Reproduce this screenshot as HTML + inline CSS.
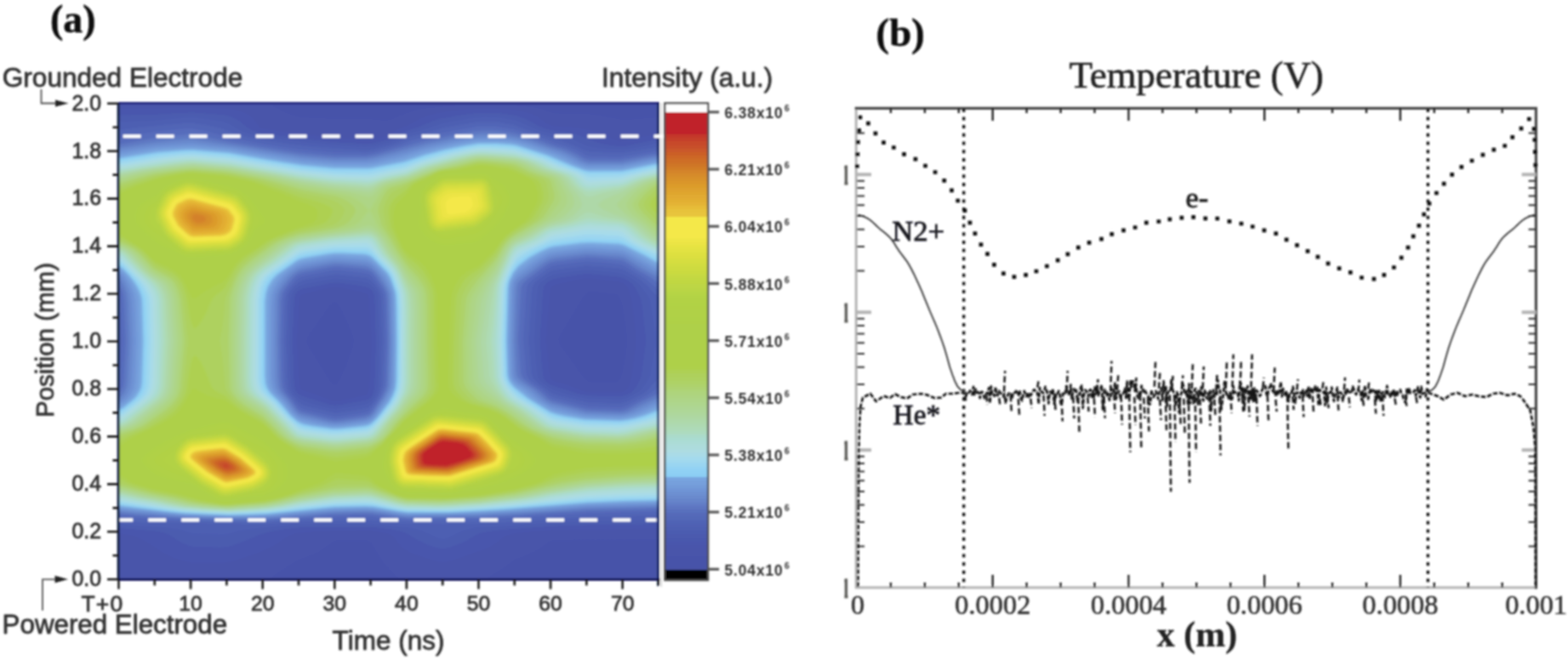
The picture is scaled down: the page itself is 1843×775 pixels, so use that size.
<!DOCTYPE html>
<html lang="en"><head><meta charset="utf-8"><title>Figure</title>
<style>
html,body{margin:0;padding:0;background:#fff;overflow:hidden}
svg{display:block}
.sans{font-family:"Liberation Sans",Arial,Helvetica,sans-serif}
.serif{font-family:"Liberation Serif","Times New Roman",Times,serif}
</style></head>
<body>
<svg width="1843" height="775" viewBox="0 0 1843 775">
<rect width="1843" height="775" fill="#fff"/>
<defs><filter id="soft" x="0" y="0" width="1843" height="775" filterUnits="userSpaceOnUse"><feGaussianBlur stdDeviation="0.9"/></filter></defs>
<g filter="url(#soft)">
<g id="panel-a">
<defs><clipPath id="hm"><rect x="139.0" y="121.0" width="636.0" height="560.6"/></clipPath><filter id="hb" x="-2%" y="-2%" width="104%" height="104%"><feGaussianBlur stdDeviation="1.3"/></filter></defs>
<g clip-path="url(#hm)"><g filter="url(#hb)">
<rect x="130.5" y="112.7" width="652.5" height="577.6" fill="#4753a9"/>
<path fill="#4854aa" d="M133 113l182.9 0 0.9 6 2.7 4 2.3 2 11.2 6.1 16 5.7 8 1 34 1.7 44 0.3 18 2 6-1.2 8-3.7 18-6.7 12-2.8 28-2.9 40-1.7 22 0.1 28 1.6 12 1.5 8 1.6 16 5.5 42 0.8 16 2.3 24 4.9 36-3.1 12-0.4 0 497.2 -124 0.1 -8 0.8 -4 1.9 -10 7.3 -6.9 4.1 -23.1 9.8 -16 11.4 -11.6 6.8 -4.4 3.5 -1.9 2.5 -1.3 6 -99.2 0 -0.4-4 -1.7-4 -11.5-12 -6-7.1 -4.9-6.9 -9.1-14.9 -2-2.4 -4-2.3 -10-0.5 -22 0.1 -6 1.6 -16 10.9 -10 4.9 -18 7.1 -20.9 13.5 -5.6 4 -4.1 4 -2 4 -0.4 4 -185 0 0-576zM689.8 345l-2.8 2.7 -4 6 -23.5 39.3 -2.6 6 0.3 4 2.3 4 12 16 12.6 18 2.9 3.5 4 3.3 4 1.5 4 0.3 22 0 4-0.6 2-1.4 2-3.1 2-5.7 4-20.9 1.9-14.9 -0.3-8 -3.6-26.4 -2-10.1 -2-6.5 -2-3.6 -2-1.8 -2-0.7 -26-2.7 -4 0.2 -2 0.7zM390.2 357l-3.2 3.4 -22.8 32.6 -2.4 4 -1.1 4 0.3 2.3 1.6 3.7 24.4 39.3 4 5 2 0.8 2-0.5 4-5.1 7.1-15.5 8-22 1.5-8 -1.2-6 -3-8 -10.4-22.8 -4-6.2 -2-1.8 -2-0.6 -2 0.7z"/>
<path fill="#4a57ad" d="M199 127l30-0.8 32 1.3 12 1.3 12 3 7.1 3.2 5 4 7.5 10 4.4 2.5 42 6.2 46 4.8 36 1.1 18-2.6 6.5-2 9.5-6.8 14-5.2 12-7 12-4.5 12-2.7 14-2.1 22-2.1 14-0.6 16 0 12 0.8 12 1.2 10 1.9 8 2.4 5.9 2.7 4.1 2.5 6.8 5.5 5.2 2.6 6 1.1 24 1.6 14 2.2 16 4.5 16.6 8 5.4 1.5 6-0.4 14-4 10-1.8 14-1.5 8-0.2 0 462.7 -131.2 1.7 -26.5 2 -18.3 2 -8 2 -4.4 2 -11.6 9.1 -8 4.1 -32 11.6 -14 4.1 -6 0.9 -6-0.6 -8-2.1 -24-8.2 -6-3.2 -4-3 -4-4.1 -6.3-8.6 -2.6-2 -5.1-2 -18-3.2 -8-0.3 -42 0.6 -24 1.1 -15.4 1.8 -6 2 -4 2 -10.6 7.3 -8 4.6 -16 7 -28 9.5 -8 1.7 -8 0.4 -32-0.1 -10-1.6 -12-3.8 -10-4.2 -6-3.5 -12-8.4 -12-6.9 -4.7-2 -7.2-2 -10.1-1.6 -12-0.6 0-499 48-0.1 18.9-0.7zM677.5 329l-26.2 6 -3 2 -1.4 2 -0.6 2 -3.3 36.5 -1.4 23.5 3.4 35.7 1.9 8.3 2.1 2.3 3.4 1.7 16.6 4.4 13.4 5.6 6.6 1.9 6 0.5 28 0.5 8-0.5 4-1.8 2.8-2.6 2.1-4 1.9-6 1.7-8 4.6-36 -0.3-8 -4.6-40 -1.3-6 -2.5-8 -2-4 -2.4-2.6 -4-2.3 -4-1.1 -34-3.7 -6 0.1 -8 1.3zM383.8 339l-26.8 6.2 -3.1 1.8 -1.4 2 -0.7 2 -1.1 10 -2.2 40 1.7 34 1.5 18 1.3 4 2 2 16 5 17.8 7 4.2 0.7 4 0 13.8-2.7 18.2-4.1 3-1.9 1.9-4 1.1-9.5 1.7-48.5 -2.3-50 -1.3-4 -2.1-2 -6-2 -28-5.4 -6 0.1 -6 1.1z"/>
<path fill="#4b5baf" d="M203 133l24-1.1 36.9 3.1 7.7 2 7.4 3.5 4 2.7 9.5 7.8 3.6 2 10.9 3.2 42 6 32 3.4 14 1.3 34 1.9 8-0.3 20-4.4 6-2.8 10-6.4 19.3-5.9 14.7-6.3 10-3.3 28-4.9 14-1.7 8-0.4 20 0.4 20 2.9 12 4.2 12.6 7.1 9.4 4.1 7.8 1.9 15.6 2 10 2 6.4 2 20.3 8 7.7 2 10.2 1.7 10 1 6-0.3 32-6.7 14-1.1 0 452.8 -88 1.3 -42 1.3 -56.6 4 -17.5 2 -11.5 2 -5.3 2 -11.1 6.7 -8 3.9 -12 4.3 -8 1.6 -8-1.1 -12-4.1 -10-4.9 -14.2-8.4 -5.6-2 -10.1-2 -24.1-3 -82 0.6 -20 2 -14.6 2.4 -8.7 2 -6.5 2 -20.2 8.6 -12 4.3 -6 1.5 -8 0.5 -28-0.4 -8-0.9 -10-4.3 -14.6-9.3 -4.9-2 -8.6-2 -35.9-3 -18-0.6 0-486.2 48-0.5 24-1.7zM683.4 323l-25.6 4 -8.7 2 -6.1 3.6 -3.4 4.4 -1.4 8 -3.3 54 2.1 28.9 1.8 15.1 1.8 4 1.7 2 4.7 3.3 33.5 10.7 12.5 2 36 0.8 4-0.7 4-1.4 4.8-2.7 2.5-2 4.3-6 3.9-8 1.2-4 5.4-40 -4.7-42 -1.7-8 -5.9-12 -3-4 -4.7-4 -6.1-3.4 -6-1.6 -18-2 -16-1.4 -8 0.2zM390.1 333l-35.1 7 -5.2 3 -2.7 4 -1.1 8 -1.7 44 1.7 50 0.6 6 1.3 4 3.1 4 3.1 2 31.6 10 7.3 1.2 6-0.3 32-5.8 2-0.9 2.7-2.2 1.5-2 1.5-4 1.4-10 1.4-48 -1.4-50 -0.7-6 -1.8-4 -2.6-2.9 -4-2.2 -8-1.6 -20-2.9 -6-0.6 -6 0.1z"/>
<path fill="#4e5fb2" d="M207 139l14-1.2 6 0 16 1.9 18 2.9 8 2.6 12.8 7.8 4.6 2 8.6 2.5 14 2.7 34 5 22 2.5 26 2.4 38 2.5 10-0.6 20-4.9 6-2.5 9.2-5.6 4.5-2 22.3-5.7 20-6.8 34-6.1 12-1.1 18 0.3 20 3.5 6 2.1 18 8.1 14 4.3 22.6 5.4 7.4 2.8 16 7.2 8 1.9 22 2 14 0.4 15.8-2.3 22.2-4.6 10-0.7 0 443.8 -94 2 -44 2.1 -58 4 -24 0.9 -14 2.8 -6 2.3 -14 6.9 -6 1.6 -6-1 -17.2-8.1 -8.8-2.7 -12-1.9 -42-4.2 -87.1 0.8 -59.9 6 -10 2 -11 3.3 -6 0.5 -34-1.4 -14.8-4.4 -15.2-2.1 -52-3.3 -14-0.3 0-473.7 50-2.2 25.6-2.4zM678.4 319l-21.4 3 -8 1.8 -6 3.1 -5.5 4.1 -2.5 2.6 -2.1 3.4 -1.3 8 -3.4 54 2.9 36 1.3 8 2.2 4 1.8 2 8.6 6.3 6 3 16 5.2 14 3.3 10 1.7 38 1.2 4-0.7 6-2.2 11-5.8 4.3-4 3-4 5.3-8 1.7-4 6.3-40 -5.5-42 -1.3-6 -3.2-6 -9-12 -7.4-6 -11.2-6.2 -8-1.9 -30-2.8 -8-0.1 -8 0.9zM386.5 329l-25.5 4.8 -8 2.3 -4 2.6 -2.5 2.3 -1.6 2 -1.9 4 -1.1 8 -1.4 46 1.4 46 1.3 10 3.1 6 2.7 3 4 3.2 8 3.5 16 4.5 12 2.7 6 0.5 28-3.9 8-1.8 4-2.3 2-1.8 4-6.3 2.5-9.3 0.7-8 1.3-46 -1.5-48 -0.6-6 -1.5-4 -2.9-4.6 -4-3.9 -4-2 -8-1.4 -24-2.7 -6-0.2 -6 0.7z"/>
<path fill="#5165b6" d="M565 142.9l18 0.1 20 3.4 18 6.6 40 12.8 16 6 12 5.4 4 1 38 1.4 42-6.7 8-0.5 0 179.9 -6-1.9 -4-3.1 -11.6-12.3 -7.1-6 -17.3-10.4 -6-2.4 -20-2.1 -20-1.4 -38 5 -6 2.6 -12 8.7 -4.4 4 -2.5 4 -1.2 8 -3.3 56 3.1 36 0.7 4 1.8 4 5.9 6 13.9 9.9 4 2.2 8 2.7 32 7.1 32 1.6 8-0.5 6-2.2 18.3-8.8 5.2-4 8.5-9.2 4-3.6 4-2.4 4-0.8 0 163.1 -90 2.2 -106 6.6 -44 0.5 -22 0.8 -48-0.9 -14-1 -24-2.6 -80 1.5 -48 3.6 -80-2 -42 0.3 -52-2.6 0-209.2 0.9-2.3 -0.9-2.5 0-245.6 10-0.4 22-2.7 54-5.2 10-0.2 16 2.7 18 3.9 16 6.3 10 2.8 32 5.9 30 4.3 16 1.7 34 2.8 32 1.6 8-0.9 20-5.1 9.6-3.4 12.4-6.2 24.1-5.8 15.9-4.7 32-5.8 10.5-1.5zM380.8 325l-21.8 4.1 -6 2 -4 2.7 -5.2 5.2 -3 4 -1.8 4 -0.9 8 -1.3 46 1.2 44 1.5 12 3.1 6 8.4 9.6 4 3 6 2.2 32 7.4 6-0.2 28-4.2 6-2.1 6-6.1 4.7-7.6 2.3-6 1.4-6 1.9-54 -1.5-46 -1.3-8 -3-6 -4.5-6.2 -4-3.9 -4-1.9 -34-3.9 -6 0.2 -10 1.7z"/>
<path fill="#576cbb" d="M561 148.8l22-0.1 22 3.5 28.3 8.8 15.8 6 19.9 6.4 8 3.2 12 6.2 4 1.1 36 0.8 40-6.4 12-0.8 0 164.3 -4-0.5 -4-1.5 -15.4-12.8 -22.6-13.8 -6-2.5 -15.1-1.7 -24.9-1.7 -34 4.2 -6 1.3 -6 3.3 -16.9 12.9 -4.4 4 -2.3 4 -1.1 8 -3.3 54 3 36 0.5 4 1.3 4 1.2 2 4 4 12 8.6 10 8.4 4 2 40 9.9 38 1.6 6-1.8 25.4-12.7 14.6-10.3 6-1.1 0 147.5 -90 2.3 -112 7.2 -18 0.5 -42-0.4 -38 1.2 -18-1.1 -26-3.5 -6-0.3 -36 0.9 -44 2.5 -44 3.2 -120-2.8 -56-3.2 0-150 4-0.6 2-1.1 2-2.5 0.8-2.4 1.2-10.5 2.3-39.5 -2.3-40.9 -1.2-11.1 -0.8-2.9 -2-3.1 -2-1.3 -4-0.8 0-177.4 10-0.6 20-4.3 20-3.3 36-4 8-0.3 18 3.5 30 7.8 12 2.5 24 4.5 42 6.3 42 3.7 38 0.7 8-1 22-5.8 8-2.5 14-5.3 38-9.4 38.8-7zM385.1 319l-26.1 4.9 -6 1.8 -4 2.6 -4 4.2 -6 7.2 -3.2 5.3 -1.5 8 -1.2 48 1 44 1.2 10 2.4 6 11.3 14.5 4 4 4 1.9 36 8.7 6-0.3 30-4.5 4-1.6 2-1.6 8-10.8 4.5-8.3 3.3-10 2.1-52 -1.5-46 -0.7-8 -2.3-6 -7.4-11.3 -4-4.8 -4-2.8 -6-1.4 -28-2.9 -6-0.1 -6 0.9z"/>
<path fill="#5f79c3" d="M555 154.8l10-1.1 16 0.1 18 2 8 1.4 22 6.4 20 7.4 16 4.8 10 4.2 12 6.6 6 1.6 36 0.4 36-6.3 16-1.1 0 152.7 -4-0.4 -4-1.6 -10.2-6.9 -13.9-8 -12.3-8 -3.6-1.9 -4-1.3 -30.7-2.8 -9.3-0.3 -34.9 4.3 -7.1 1.7 -6 3.6 -21.9 16.7 -4.1 3.9 -1.4 2.1 -1.2 4 -0.4 4 -3 56 2.6 36 0.5 4 1.4 4 1.4 2 4.5 4 14.3 10 11 10 4.3 2.3 40 10.2 8 0.7 32 1.1 4-0.7 4.4-1.6 13.6-7.3 22-10.5 4-1.3 4-0.4 0 136.4 -90 2.3 -44 2.7 -38 3.1 -44 2.4 -86 1.1 -14-1.2 -28-4 -8-0.3 -36 0.9 -68 5.4 -20 1.1 -40-0.4 -54-1.6 -24-1.2 -46-3.7 -10-0.2 0-138.8 4-0.3 4-1.8 3.7-4.4 2.3-5.7 0.9-8.3 1.9-44 -1.9-44 -0.9-10 -2-6.3 -4-7.1 -2-1.9 -2-1.1 -4-0.6 0-159.7 12-0.8 40-7.3 40-4.5 6 0.6 30.8 6.7 47.2 8 44 6.7 42 3.8 38-0.1 10-1.6 58-15.9 28-6 26.7-4.9zM382.8 315l-25.8 4.9 -6 2.1 -4 2.8 -4 4.3 -7.8 9.9 -3.3 6 -1.4 8 -1.1 48 0.9 44 1.3 10 2.6 6 8.1 10 6.7 9.4 2.8 2.6 3.2 1.6 33.1 8.4 4.9 0.7 6-0.3 30-4.3 4-1.3 2-1.3 4-4.9 9.4-14.6 3.8-8 1.8-6 0.7-8 1.2-44 -1.4-48 -1-8 -2.6-6 -9.3-14 -4.6-5.2 -4-2.4 -6-1.3 -30-2.8 -6 0.2 -8 1.5z"/>
<path fill="#6888cc" d="M557 158.8l8-0.7 18 0.1 18 1.7 10 2 14 3.9 20.3 7.2 15.7 4.8 10 4.2 14 7.4 4 1.4 4 0.6 38 0 32-6 10-1.3 8-0.2 0 143 -6-0.7 -4-1.6 -16-8.7 -18-11.2 -4-1.9 -6-1.4 -38-2.5 -36 4.4 -8 2.2 -6.1 3.5 -25.9 19.4 -2.8 2.6 -2.3 4 -0.9 6 -2.1 60 1.8 36 0.6 4 1.7 3.6 4.7 4.4 14.9 10 13.6 12 6.8 3.6 40 9.8 40 1.7 6-0.9 6.1-2.2 17.9-9 12-5.2 4-1.1 6-0.5 0 128.3 -90 2.4 -82 6 -46 2.7 -84 1.1 -14-1.4 -28-4.2 -8-0.3 -36 0.9 -66 5.7 -24 1.4 -38 0 -50-1.7 -50-3.7 -24-2.3 -10-0.3 0-131.1 6-0.7 4-2 4.3-5 3.7-8 1.1-8 1.9-46 -1.8-46 -1.4-10 -3.8-10 -4-7.2 -4-3.3 -6-1 0-149.3 12-0.7 38-6.1 36-3.5 8-0.2 56 8 72 11.6 40 3.4 38-0.2 10-1.5 64-16.6 32-6.3 18.9-3.1zM384.5 311l-27.5 5.2 -4 1.1 -4 1.9 -5.1 3.8 -3.8 4 -7.8 10 -3.6 6 -1.3 4 -0.8 6 -0.8 44 0.6 46 1 10 1.2 4 2 4 8.5 10 7.9 11.2 4 3.7 4 1.9 29.1 7.2 8.9 1.4 8-0.5 28-4 6-2.2 4-4 12.2-18.7 3.9-8 1.7-6 1.6-52 -1.1-48 -0.9-8 -3.4-8.3 -6-9.7 -6.4-8 -5.6-4.6 -6-1.9 -28-2.5 -8-0.2 -8 1.1z"/>
<path fill="#6e92d4" d="M553 162.8l12-1.3 16-0.1 18 1.4 10 1.6 14 3.8 34 11.3 8.6 3.5 17.4 8.6 8 2.4 40-0.1 36-6.7 14-1 0 135.6 -6-0.6 -6-2.1 -31.4-18.1 -4.6-2 -6-1.4 -38-2.2 -36 4.3 -8 2 -10 5.6 -24 17.7 -4 4 -2 3.6 -1.3 8.4 -1.7 60 1.4 36 0.4 4 1.3 4 3.9 4.4 14.5 9.6 14 12 6.1 4 5.4 2.6 28 7 12 2.3 40 1.5 6-0.7 8.9-2.7 27.1-12.3 4-1 6-0.5 0 122.3 -90 2.5 -84 6.3 -50 2.9 -78 1 -10-1 -32-4.9 -8-0.3 -36 0.9 -76 6.8 -24 0.8 -30 0.1 -46-1.7 -20-1.4 -56-5.4 -10-0.3 0-125.4 6-0.6 2.6-0.8 3.4-2 5.5-6 4.2-8 1.5-8 1.9-48 -1.7-46 -1.5-10 -4.9-12 -5-8.3 -4.6-3.7 -3.4-1 -4-0.3 0-142.2 12-0.7 40-6.1 42-2.7 48 5.2 82 13.1 38 3.3 38-0.2 10-1.3 34-8.2 32-8.7 26-5.1 18.7-3.1zM389.5 307l-32.5 5.8 -8 3 -6 4 -5.8 5.2 -6.6 8 -5 8 -2.1 6 -0.8 8 -0.6 46 0.7 46 1.4 8 2.9 6 9.9 11.4 8 11.1 6 5.4 6 2.4 28 6.3 8 1 10-0.7 26-3.5 4-1.1 4-2.3 3.6-4 10.9-16 6.2-12 1.2-4 0.7-6 1-42 -1.1-56 -0.6-6 -1.2-4 -5.8-12 -7.7-10 -5.2-5.2 -4-3 -4-1.5 -4-0.5 -28-2.1 -8 0.1z"/>
<path fill="#749dda" d="M557 164.9l8-0.7 18 0 18 1.4 8 1.4 12 3.3 32 10.7 8 3.2 18.7 8.8 5.3 2 6 1.4 40-0.1 36-6.8 14-1.2 0 129.3 -6-0.6 -4-1.2 -32-17.9 -6-2.7 -6-1.3 -30-1.8 -10 0 -34 4.1 -6 1.2 -4 1.6 -14.1 8 -17.9 13.3 -4 3.8 -4 6.4 -1.3 4.5 -0.6 6 -1.6 60 1.3 38 0.6 4 1.7 4 3.9 4.3 12 8.2 13.9 11.5 14.1 8.5 6 2.1 14.2 3.4 19.8 3.9 10 0.8 32 0.9 6-0.6 10-2.6 8-2.9 18-8.1 4-1 6-0.5 0 116.8 -48 1 -42 1.5 -94 7.3 -50 2.6 -28 0.7 -40 0 -10-1 -30-4.9 -10-0.5 -38 1.1 -80 7.3 -40 0.8 -56-2.1 -74-7.2 -10-0.4 0-120.3 8-1 6.2-3.6 4.4-4 3.2-4 4.2-8 1.5-8 1.7-48 -1.6-46 -1.7-10 -5.2-12 -6.7-10.2 -6-4.9 -4-1.2 -4-0.3 0-135.8 12-0.7 40-6.1 42-2.6 44 3.9 86 14 38 3.2 38 0 8-0.8 34-7.6 24-7.1 16-3.9 24-4.8 19.6-3.1zM382.7 305l-25.7 4.6 -8 2.9 -9.6 6.5 -6.9 6 -6.5 8 -4.5 8 -2.2 8 -0.5 10 -0.4 42 0.3 40 0.3 6 1 6 1.3 4 2.2 4 10.9 12 8.6 11.5 4.5 4.5 5.5 3.6 17.2 4.4 20.8 3.5 10-0.3 28-3.5 6-1.9 4-3.1 2.4-2.7 13.6-19.3 4.3-8.7 1.9-6 0.7-8 0.8-48 -0.8-44 -1.2-12 -3.7-10 -4.2-8 -3.2-4 -8.6-8.7 -6-4.9 -6-1.8 -28-1.9 -8-0.1 -10 1.4z"/>
<path fill="#7aa8e0" d="M561 166.9l24-0.2 16 1.3 8 1.4 40 12.9 29.2 12.7 6.8 2.4 6 1.4 40-0.1 38-7.3 12-1 0 123.2 -6-0.6 -4-1.3 -30.4-16.7 -7.6-3.4 -6-1.4 -30-1.5 -10 0 -36 4.3 -6 1.6 -5.6 2.4 -14 8 -14.4 10.6 -6 6.4 -4 7.4 -1.2 3.6 -0.9 6 -1.7 62 1.3 38 0.5 4.1 2 5 4.1 4.9 10.9 8 9.6 8 15.4 10 6 3.3 6 2 10 2.4 24 4.5 42 1.6 8-1 10-2.4 10-3.3 14-6 4-1.1 6-0.5 0 111.4 -46 1 -44 1.6 -94 7.5 -34 2.2 -30 1.1 -54 0.2 -12-1.4 -28-4.7 -10-0.6 -38 1.1 -80 7.6 -40 1.1 -54-2.1 -74-7.9 -12-0.5 0-115.4 8-1 4-1.9 4-2.8 8.6-8 4.9-8 1.4-4 0.8-6 1.7-48 -1.7-48 -0.6-4 -1.8-6 -6.2-12 -4.2-6 -4.9-5.6 -6-4.6 -4-1.2 -4-0.2 0-129.7 12-0.7 40-6.4 42-2.7 44 3.6 86 14.3 38 3.2 40 0.2 8-1.1 34-7.2 24-7.5 18-4.6 24-4.8 18.7-3zM389.1 301l-32.1 5.4 -8 2.9 -11.4 7.7 -7.7 6 -5.6 6 -5.2 8 -2.9 8 -1.2 10 -0.3 50 0.7 44 1.5 6 3.1 6 11.3 12 11.1 14 4.6 4.3 4 2.9 4 1.8 8 2 26 4.3 8 0.2 18-1.8 16-2.2 4-1.5 4-2.9 4.6-5.1 11.9-16 3.5-6.3 3.3-7.7 1-4 0.7-6 0.7-44 -0.5-42 -0.7-16 -2.6-10 -3.9-9.7 -2-3.6 -3.9-4.7 -10.1-10 -6-5 -4-1.5 -4-0.5 -28-1.4 -8 0.2z"/>
<path fill="#90d1f4" d="M563 169l22 0.1 16 1.2 6 1 36 11.5 28.7 12.2 15.3 5.4 6 1.1 38-0.3 38-7.6 12-1 0 116.9 -6-0.6 -4-1.3 -15.3-8.6 -20.7-10.2 -4-1.6 -4-0.8 -32-1.3 -12 0.5 -32 3.9 -6 1.6 -10 4.4 -13.3 7.5 -12.7 9.7 -6 7.8 -4.1 8.5 -1.2 4 -0.9 6 -1.8 62 1.2 38 1 6 1.8 4.1 2.8 3.9 3.2 3.2 16 12.8 26 16.1 6 2 10 2.3 24 4.2 42 1.4 8-0.9 10-2.2 10.3-2.9 15.7-6 8-0.9 0 105.9 -50 1.1 -40 1.6 -100.1 8.3 -63.9 3.4 -48-0.2 -10.1-1.2 -29.9-5.2 -10-0.6 -36 0.9 -80 8.1 -44 1.5 -52-2.3 -22-2.2 -52-6.4 -12-0.6 0-110.5 8-0.9 4-1.9 4-2.7 11-9.2 3.4-4 3.4-6 1.4-4 0.8-6 1.5-48 -1.4-46 -0.8-6 -2-6 -2.8-6 -3.8-6 -6.3-8 -6.4-6.8 -6-4.5 -4-1.2 -4-0.2 0-123.5 12-0.7 42-6.8 32-2.6 10-0.2 42 3.5 42 7.5 44 7.1 38 3.3 40 0.3 6-0.7 36-7.1 26-8.5 22-5.7 24-4.8 15.5-2.4zM381.8 299l-24.8 4.2 -4 1 -4 1.9 -23.8 16.9 -5.6 6 -4.9 8 -2.4 8 -1.1 10 0 86 0.8 10 2 6 4.1 6 10.1 10 13.4 16 7.4 6.5 4 2.3 4 1.4 10 2 24 3.3 10-0.3 28-3 4-1 4-2.1 7.2-7.1 13.7-18 4.2-8 2.9-8 1.1-10 0.6-46 -0.6-42 -0.4-10 -0.9-6 -5.5-16 -3.4-6 -16.9-17.3 -4-3.2 -6-1.8 -26-1.1 -10 0 -10 1.2z"/>
<path fill="#9dd7f0" d="M553 172.7l10-1.5 14 0 22 1.3 8 1.3 34 10.7 24.3 10.5 23.7 8.5 4 0.8 38-0.3 38-8 12-1.1 0 110.5 -6-0.6 -4-1.5 -38-19.3 -4-1.3 -4-0.6 -36-1 -34 4 -6 1.1 -4 1.3 -16.5 7.5 -13.5 8 -8 7 -6 9.5 -4.8 11.5 -1 4 -0.6 6 -1.8 60 1.3 40 1.4 6 2.1 4 5.4 6.8 10.6 9.2 33.4 20.9 6 2.2 8 1.7 26 4.3 40 1.4 8-0.7 12-2.3 12-3.1 14-4.7 8-1 0 100.1 -46 1 -44 1.8 -93.3 8.4 -36.7 2.5 -36 1.8 -46-0.4 -13.7-1.9 -26.3-4.9 -10-0.7 -36 1 -80 8.6 -44 1.7 -30-1.1 -22-1.4 -22-2.4 -54-7.2 -10-0.4 0-105.3 8-1 6-3.2 15.1-11.7 5.7-6 2.4-4 2.3-6 0.7-6 1.5-48 -1.4-46 -0.8-6 -2.2-6 -3-6 -4.1-6 -16.2-17.9 -6-4.5 -4-1.2 -4-0.3 0-117.2 12-0.7 42-7 32-2.9 10-0.3 40 3.2 88 15.2 38 3.5 40 0.6 42-7.7 18-6.4 21.5-6.4 14.5-3.6 22.1-4.4zM387.4 295l-28.4 4.4 -8 2.3 -6 3.7 -22 15.6 -6.5 6 -4.2 6 -2.9 8 -1.7 12 -0.1 88 0.7 10 2.1 6 4.2 6 10.5 10 10 12 5.8 6 8.1 7.2 4 2.4 4 1.3 8 1.5 26 3.3 10-0.3 26-2.5 4-0.7 4-1.5 4-2.8 5.6-5.9 15.6-20 4.1-8 2.8-8 1-10 0.5-46 -0.4-40 -1-16 -4.3-14 -4.5-10 -3.4-4.3 -16-16.4 -4-3.4 -4-1.6 -4-0.4 -28-0.7 -10 0.6z"/>
<path fill="#a8dbe9" d="M553 175l10-1.5 10 0 24 1.3 10 1.5 30 9.1 21.8 9.6 20.2 7.1 12 5.7 4 0.7 34-1 40-9.1 12-1.1 0 103.8 -8-1.2 -20-8.7 -8.5-4.2 -11.5-7.5 -4-1.8 -6-0.8 -26-1.2 -10 0.3 -36 5.4 -4 1.4 -26.1 12.2 -7.9 4.7 -6 5.4 -6 9.7 -6.9 16.2 -1.6 10 -1.9 60 1.3 40 1.3 6 3 6 4.8 6.3 8 7.7 38 24.1 4 1.6 6 1.4 30 4.9 8 0.6 32 0.7 10-1.1 20-4.3 16-4.5 8-0.9 0 93.6 -48 1 -42 1.9 -88.8 9 -39.2 3 -38 2.1 -48-0.7 -12-1.9 -26-5.3 -10-0.8 -36 1.1 -38 4 -20 3 -22 2.4 -44 1.9 -30-1.2 -22.9-1.6 -19.1-2.2 -56-8.5 -10-0.5 0-99.6 8-1.1 6-3.2 19.3-14.9 5.8-6 2.5-4 1.6-4 1.1-6 1.5-50 -1.3-46 -0.9-6 -2.3-6 -3.1-6 -4.4-6 -19.8-21 -6-4.6 -4-1.2 -4-0.3 0-110.8 10-0.5 46-7.6 30-3 10-0.3 40 3.2 88 15.3 40 4 38 0.9 6-1 18-4.2 18-3 18-6.8 28-8.2 14-3.4 18-3.5zM393.8 291l-34.8 5 -8 2.3 -32.7 22.7 -4.6 4 -4.4 6 -3.1 8 -2 14 -0.1 90 0.3 6 0.9 4 1.5 4 2.4 4 13.8 13.1 15.1 16.9 8.9 8.3 4 3.1 6 2.4 10 1.6 22 2.6 10 0.1 28-2.6 4-0.6 4-1.6 4-2.9 7.8-8.4 13-16 4.8-8 4.1-10 1.4-10 0.5-46 -0.3-40 -0.6-14 -0.9-6 -2.4-8 -4.6-12 -4.8-7 -10.9-11 -9.1-10.6 -4-2.8 -4-0.9 -34 0.2z"/>
<path fill="#aedcdf" d="M555 176.8l10-1.1 18 0.6 18 1.4 10 2.1 24 7.1 17.5 8.1 23.2 8 7.2 4 6.1 5 4 1.4 36-2.2 14-4.6 10-2.5 18-3.6 10-0.7 0 97.4 -6-0.5 -4-1 -18-7.4 -9.1-5.3 -10.9-9 -4-1.9 -6-0.8 -30-1.5 -6 0.5 -36.7 6.7 -3.3 1.3 -12 7.1 -21.6 9.6 -3.1 2 -3.3 3 -4 6.2 -7.1 14.8 -4.4 12 -1.1 8 -2.2 60 1.6 42 1.7 6 3.2 6 6.3 8.3 6 5.5 17.1 10.2 22.9 15.4 8 2.5 34 5.4 38 1.1 8-0.9 38-8.5 8-0.6 0 86 -48 1.3 -40 2.1 -42 4.5 -22 3.1 -26 2.8 -38 3.2 -40 2.4 -48-0.8 -12-2 -28-6.2 -8-0.6 -34 1.1 -40 4.6 -20 3.3 -20 2.3 -46 2.4 -32-1.4 -24-2 -18-2.4 -54-9.2 -10-0.6 0-93.9 8-1 6-3.3 23.4-18.1 6-6 2.5-4 1.5-4 1.1-6 1.4-50 -1.3-46 -0.9-6 -2.4-6 -3.2-6 -3-4 -27.1-28.1 -2.5-1.9 -3.5-1.6 -6-0.6 0-104.9 12-0.7 48-7.9 26-2.7 10-0.3 40 3.3 88 15.2 40 4.5 38 1.2 6-1.1 16-4.1 20-3.6 16-6.5 10-3.3 30-8.3 23-4.6zM403.9 287l-12.9 0.8 -32 4.7 -6 1.4 -4 1.9 -17.8 13.2 -17.4 12 -4.3 4 -3.9 6 -2.3 6 -1.7 8 -0.9 8 0 92 1.1 8 2.4 6 3.2 4 13.4 12 14.6 16 11.6 11.3 4 3.2 4 1.8 4 0.8 30 3.8 6 0.2 34-3 4-1 4-2.3 10-10.5 16.4-20.3 3.4-6 3.4-8 1.5-6 0.5-6 0.4-50 -0.6-46 -1.6-12 -5.7-16 -1.9-4 -3.8-5.6 -11.8-12.4 -10.2-13.2 -2-1.9 -2-1.1 -4-0.7 -24 0.9z"/>
<path fill="#abdcd5" d="M555 178.8l12-1.1 30 1.8 8 1 16 3.9 13.8 4.6 16.2 7.7 16 5.1 7.8 3.2 5.6 4 6.6 6.6 2 1 4 0.8 36-3.1 4.9-1.3 11.1-4.5 8-2.2 18-3.6 10-0.7 0 92.2 -6-0.4 -4-0.9 -14.5-5.9 -9.5-5.9 -11.2-10.1 -4.8-2.7 -6-1.1 -32-1.6 -6 0.5 -38 7.3 -4 1.8 -8.3 5.8 -5.7 3.2 -20.7 8.8 -3.3 2.4 -4 5.7 -9.2 19.9 -4.9 14 -0.8 8 -2.4 58 1.7 42 1.6 6 4 8 6 8 4.2 4 19.8 12 20 14.4 4 2.3 6 1.8 36 5.8 38 1.1 6-0.6 16-3.8 22-4.5 10-0.7 0 79 -46 1.3 -42 2.5 -43.9 5.4 -18.1 3.2 -16 2.1 -46 4.4 -42 2.8 -14 0.2 -36-1 -12-2.2 -28-6.8 -8-0.7 -34 1.2 -42 5.3 -18 3.4 -18 2.3 -14 1.2 -34 1.6 -32-1.5 -24-2.2 -56-9.4 -18-3.7 -8-0.4 0-88.6 8-0.8 6-2.9 27.6-21.5 4.3-4 3.1-4 2.5-6 0.9-6 1.5-50 -1.5-48 -1.4-6 -2.7-6 -5.5-8 -30.8-31.3 -4.5-2.7 -7.5-0.9 0-99.7 10-0.5 24-4.1 36-5.2 18-1.9 8-0.2 42 3.7 82 14.3 40 5 42 1.9 4-0.6 18-4.9 20-3.7 4-1.2 13-6 9-3 34-9.3 18.7-3.7zM415.8 283l-26.5 2 -32.3 4.7 -4 0.9 -4 1.7 -22 16.6 -15 10.1 -5 4.4 -3.8 5.6 -2.6 6 -2 8 -1.1 8 -0.5 48 0.3 46 0.9 8 2.3 6 3.1 4 14.2 12 14.8 16 14.4 14.4 4 3.1 4 1.6 4 0.7 30 3.8 8 0.2 32-3.1 4-0.8 4-2.1 8-8.5 16.3-19.3 4.4-6 4.2-8 2.5-6 1.9-10 0.3-88 -1-16 -1.8-8 -5.1-14 -3.7-7.2 -4-5.3 -10.7-11.5 -11.3-16.1 -2.8-1.9 -3.2-0.8 -14 0.7z"/>
<path fill="#acdbc6" d="M553 180.8l12-1.3 22 1.1 18 1.7 16 3.9 10 3.4 15 7.4 23.7 8 6.2 4 5.1 6 4 3.5 6 2.3 6-0.1 32-3.6 6-1.7 10.1-4.4 9.9-3.2 16-3.2 10-0.6 0 87.7 -6-0.4 -4-0.9 -12.4-5.4 -8.7-6 -11-10 -3.9-2.6 -3.4-1.4 -6.6-1.1 -32-2.2 -6 0.7 -14 3.5 -26 5 -4.1 2.1 -13.9 9.1 -20 8.5 -4 3 -4 6.5 -9.3 20.9 -5 14 -1 8 -3.2 58 2.1 42 1.6 6 5 10 4.4 6 5.4 5.2 17.8 10.8 21.9 16 4.3 2.6 6 2 38 6.2 38 1.1 8-0.9 16-4 18-3.6 12-0.9 0 73.3 -48 1.6 -40.3 2.6 -44.9 6 -16.8 3.3 -16 2.3 -50 5.2 -38 2.5 -14 0.2 -36-1.1 -10-1.8 -30-7.9 -8-0.6 -36 1.4 -40 5.5 -20 3.9 -16 2.3 -16 1.3 -32 1.6 -30-1.5 -26-2.5 -14-2.2 -18-4 -22-3.4 -18-4.2 -10-0.7 0-84 8-0.7 6.9-2.9 30.9-24 4.3-4 2.9-4 2.3-6 0.9-6 1.7-50 -1.8-48 -1.3-6 -3.8-8 -4.5-6 -15-14 -17.5-18.6 -6-3.7 -8-0.9 0-95.3 10-0.5 24-4.1 40-5.6 14-1.5 8-0.3 44 4.1 80 13.9 40 5.3 42 2.2 4-0.7 18-5.3 22-4.3 16-7 8-2.8 36-9.8 15-3.1zM405.3 281l-14.3 1.3 -34 4.9 -6 1.3 -5 2.5 -20.8 16 -16.2 11.1 -5.3 4.9 -3.9 6 -3.1 8 -2.1 10 -0.7 8 -0.1 90 1.4 10 2.9 6 3.8 4 13.1 10.2 30.5 31.8 5.1 4 7.6 2 30.8 4 8 0.2 34-3.5 4-1.1 4-2.6 24.6-29 4.3-6 6.9-14 1.4-6 0.6-6 0.2-78 -0.5-16 -0.7-8 -1.2-6 -6-16 -2.8-6 -2.8-4.4 -13.5-15.6 -8.8-14 -3.7-4 -2-1.1 -4-0.7 -24 1.7z"/>
<path fill="#aedab5" d="M551 182.7l12-1.6 20 0.8 22 2.1 14 3.3 10.1 3.7 13.9 6.8 16.3 5.2 7.7 3.1 4.3 2.9 6.8 8 2.9 2.7 6 3.9 4 1.1 4 0 34-5 6-1.7 14-6.1 9.1-2.9 12.9-2.7 10-0.6 0 83.5 -8-0.8 -8.6-3.4 -9-6 -13.8-12 -8.6-4.7 -6-1.3 -36-3.9 -4 0.8 -14.7 5.1 -21.3 4.3 -5.7 1.7 -4.3 2.1 -15.5 9.9 -16.5 7 -4.6 3 -3.2 4 -2.2 4.5 -8.6 19.5 -6.2 16 -1 6 -5.4 60 3.2 42 2.7 8 5.4 10 4.8 6 4.3 4 16.4 10 21.8 16 6.2 4 8.4 2.7 36 5.9 38 1.3 10-0.7 20-4.9 14-2.8 12-0.9 0 68.9 -48 1.6 -42 2.9 -42.6 6 -21.4 4.3 -16 2.3 -46 4.9 -38 2.6 -14 0.2 -36-1.1 -10-2 -30-8.2 -8-0.6 -36 1.4 -42 6.1 -18 3.8 -16 2.4 -14 1.3 -34 1.8 -30-1.6 -24-2.3 -14-2.4 -20-4.5 -20-3.3 -20-4.7 -10-0.6 0-80.3 10-0.9 8-3.7 29.5-22.9 4.7-4 3.5-4 2.8-6 1.2-6 2.2-52 -2.2-48 -1.2-6 -3.6-8 -4.6-6 -15.8-14 -18.7-20 -2.6-2 -4-2 -3.2-0.8 -6-0.3 0-91.5 10-0.5 26-4.5 38-5.2 14-1.6 8-0.3 44 4 58 9.9 22 4.2 40 5.6 40 2.8 6-1 16-5.4 25.7-5.4 16.3-7.2 8-2.8 36-9.6 10.7-2.4zM426.5 277l-37.5 3.4 -34 5 -6 1.5 -4 1.9 -24.1 18.2 -13.9 9.6 -5.1 4.4 -4.3 6 -2.8 6 -1.9 6 -2 10 -0.8 50 0.3 46 1.3 10 2.7 6 4.6 4.8 14.8 11.2 30.6 32 4.6 3.4 4 1.6 5.4 1 30.6 4 10 0 34-3.7 4-1.5 3.9-2.8 14.1-17.5 9.4-10.5 4.4-6 8.5-16 2.1-10 0.2-88 -1-14 -1-6 -7-18 -3.9-8 -4.1-6 -10.4-12 -9.7-16 -3.5-3.7 -4-2.1 -4-0.5 -4 0.3z"/>
<path fill="#aed8a8" d="M559 182.8l10-0.3 32 2.4 10 1.9 10 3 19.8 9.2 16.2 5.1 6.9 2.9 4.9 4 4.4 6 3.8 3.8 10 8.4 4 2 4-0.3 12.9-3.9 23.1-4.8 21.2-9.2 8.8-2.9 10-2.2 10-0.7 0 79.6 -8-1 -6.3-2.8 -7.7-5.5 -12.2-10.5 -5.8-3.9 -6-3.1 -6-1.9 -18.5-3.1 -15.5-4.7 -4-0.6 -4 1.2 -9.1 6.1 -4.1 2 -8.8 2.9 -16 3.6 -6 2.1 -6.5 3.4 -12.8 8 -16.7 7.5 -4 2.9 -2.9 3.6 -2.1 4 -16.1 36 -1.3 4 -3 16 -5.5 42 -0.6 8 3.8 40 2.4 6 7.8 12 6.8 8 4.7 3.9 13.4 8.1 24.6 18 7.2 4 8.8 2.6 36 5.9 40 1.2 10-1 32-7.2 12-0.9 0 64.9 -48 1.6 -42 3 -44 6.4 -22 4.5 -14 2.2 -46 5.2 -36 2.4 -14 0.5 -38-1.2 -8-1.6 -30-8.6 -4-0.8 -6-0.3 -36 1.5 -40 5.9 -22 4.7 -14 2.2 -14 1.4 -34 1.9 -26-1.4 -26-2.6 -13.5-2.4 -18.5-4.3 -21.3-3.7 -20.7-4.9 -12-1 0-76.8 10-0.8 6-2.1 4.8-2.4 5.7-4 25.5-20.2 4.3-3.8 3.2-4 2.6-6 1.2-6 2.6-52 -2.6-48 -1.9-8 -3.9-8 -3.2-4 -16.9-14 -16.5-18 -4.3-4 -3.1-2 -4.9-2 -8.6-0.8 0-87.8 10-0.5 30-5.4 32-4.3 16-1.9 8-0.3 46 4.2 54 9.3 24 4.8 40 6 42 3.3 4-1 8-3.8 8-2.7 26-5.6 20-8.4 8-2.7 36-9.4 15-3zM424.7 275l-35.7 3.5 -34 5 -6.4 1.5 -4.9 2 -6.6 4 -15.2 12 -16.9 12.1 -6.6 5.9 -3.4 4.7 -3.5 7.3 -2.4 8 -1.8 10 -0.7 48 0.4 44 1.1 12 1.4 4 2.6 4 4.9 4.5 12 8.2 3.8 3.3 28.7 30 3.5 3 4 2.4 8 2.2 36 4.5 36-3.4 6-1.2 3.5-1.5 2.9-2 3.6-3.6 11-14.4 13-14.9 9.3-15.1 2.9-6 1.4-6 0.5-8 -0.2-80 -0.7-12 -1.7-10 -9.6-22 -3.9-7.1 -12-14.9 -9.6-16 -3.2-4 -3.2-2.6 -4-1.7 -4-0.3 -6 0.6z"/>
<path fill="#aed79c" d="M555 184.9l6-0.9 8-0.1 26 1.9 12 1.5 12.2 3.7 17.8 8.5 18 5.7 4.1 1.8 5.2 4 5.6 8 9.2 10 2.4 4 2.3 6 0.1 2 -1.8 4 -5.8 6 -4.9 4 -7.9 4 -16.5 4.8 -11.6 5.2 -14.4 8.6 -16 7.8 -4.2 3.6 -3.8 5.6 -12 26.3 -7.7 14.1 -3.9 12 -1.9 8 -5.8 40 -0.6 8 3.1 38 0.7 4 1.6 4 2.9 4 7.3 8 12.5 12 15.9 10 24.9 18 7 3.5 6 2 42 6.9 38 1 12-1.2 30-6.9 12-0.9 0 61.2 -48 1.6 -42 3.1 -44 6.6 -24.9 5.1 -15.1 2.4 -42 4.9 -34 2.3 -16 0.6 -38-1.2 -10-2.3 -28-8.3 -4-0.8 -6-0.3 -38 1.7 -40 6.3 -21.5 4.7 -14.5 2.4 -12 1.2 -34 1.9 -24-1.3 -26-2.6 -32-6.9 -20-3.6 -24-5.6 -12-0.9 0-73.7 6-0.2 6-1 6-2 7.3-3.7 30.7-23.9 6-6.1 3.2-6 1.8-8 2.9-52 -3-48 -1.8-8 -3.7-8 -3.1-4 -2.2-2 -10.1-7.1 -5.6-4.9 -16.4-18 -4.3-4 -5.7-3.7 -4-1.6 -4-0.8 -6-0.3 0-84.1 10-0.6 24-4.8 18-2.8 36-4.4 10-0.2 42 3.7 54 9.4 26 5.5 34 5.4 48 5.1 4-1 8.1-4.8 5.9-2.5 28-6.5 28-11 47.4-12zM423.3 273l-40.3 4.6 -30 4.5 -8 2.3 -5.9 2.6 -6.3 4 -31.7 24 -6.2 6 -4 6 -3.4 8 -2.2 8 -1.4 8 -0.8 48 0.5 46 0.4 6 1.1 6 1.8 4 2.1 2.8 6 5.3 16 11.1 27.7 28.8 4.5 4 3.8 2.3 8 2.6 36 4.7 8-0.1 32-3.4 4-0.9 4-1.6 4-2.6 3.2-3 10.8-14.4 13.8-15.6 12.2-18 2.1-4 1.4-6 0.5-8 -0.4-82 -1.2-14 -2.1-8 -14.3-27.5 -12.6-16.5 -9.4-15.9 -4-4.5 -6-3.8 -4-0.8 -8 0.8zM775 208.9l6-0.2 0 75.2 -6-0.6 -5.6-2.3 -5.6-4 -12.8-10.9 -6-4.1 -12-6.4 -13.6-4.6 -9.3-4 -5.9-4 -0.9-2 0.8-2 5.5-4 8.9-4 12.5-4.7 22.3-11.3 10.9-4 10.1-2z"/>
<path fill="#aed690" d="M553 186.7l8-1.4 6-0.2 20 1.3 18 2 10 2.9 20 9.4 18 5.7 4.7 2.6 2.1 2 5 8 7.4 10 1.7 4 0.9 4 -0.3 4 -2.2 4 -5.8 6 -4.9 4 -3.5 2 -13.1 5.1 -10.4 4.9 -17.4 10 -10.2 5 -6 4.2 -5.2 6.8 -12.8 26.3 -10.1 15.7 -5.8 14 -1.7 6 -5.9 44 0.1 10 2.2 32 0.9 6 1.8 4 3.2 4 6.1 6 18 14 13 8 25 18 7.8 4 9.4 3.3 40 6.6 40 1.2 12-1.1 30-6.8 12-1.1 0 57.6 -48 1.7 -44 3.3 -42 6.6 -28 5.8 -14 2.3 -42 5 -34 2.3 -14 0.4 -38-1.2 -8-1.8 -30-9.2 -4-0.8 -6-0.3 -38 1.8 -38 6.1 -26 5.6 -14 2.4 -46 3 -24-1.6 -22-2.4 -30.7-6.7 -21.3-4 -24-5.7 -6-1 -8-0.3 0-70.5 8-0.3 6-1.3 8.2-2.9 5.8-2.9 4.6-3.1 25.4-19.9 4.5-4.1 3.4-4 3-6 1.7-8 3.2-52 -3.5-50 -2.3-8 -4-8 -4-4.2 -11.8-7.8 -4.9-4 -16.3-18 -6.8-6 -4.2-2.5 -6-2.4 -4-0.8 -6-0.2 0-80.3 10-0.6 23.2-5.2 16.8-2.9 38-4.6 10-0.2 42 3.6 46.6 8.1 39.4 8.5 32 5.2 44 5.8 4-0.9 9.2-6.6 8.6-4 24.2-5.5 32.9-12.5 39.9-10zM421.1 271l-64.1 8.7 -8 1.6 -6 1.9 -8.4 3.8 -6.1 4 -29 22 -8.2 8 -3.7 6 -3.4 8 -2.3 8 -1.4 8 -0.9 50 0.6 46 1.3 10 1.7 4 3 4 7 6 13.8 9 4 3.2 26.9 27.8 5.1 3.9 4 2.2 4 1.5 6 1.3 36 4.5 10-0.6 30-3.5 4-1.1 4.5-2.2 7.3-6 10.3-14 12.6-14 7.3-10.3 8.2-9.7 2.1-4 1.4-6 0.4-6 -0.7-86 -1.3-14 -1.8-6 -8.3-13.1 -9.2-16.9 -10.5-14 -10.3-17.3 -6-6.1 -6-3.7 -6-0.7 -8 1.4zM773 210.7l8-0.5 0 70.3 -6-0.8 -6-3 -16-13.2 -16.2-10.5 -8.8-8 -1.9-2 -0.8-2 0.5-2 1.8-2 10.8-10 5.6-4 14.9-8 12.2-4z"/>
<path fill="#aed586" d="M559 186.9l6-0.5 8 0.3 32 3.2 9.2 3.1 16.3 8 18.9 6 3.7 2 3.6 4 8.6 16 1.3 6 -0.5 4 -1.9 4 -5.3 6 -6.8 6 -45.1 24.7 -4 2.5 -4 3.5 -5.3 7.3 -6.7 13.6 -6 10.6 -10.5 13.8 -8.4 16 -1.7 4 -1.3 6 -5 44 1.9 42 1 6 2 4 5.1 6 6.8 6 12.1 6.9 18 11.5 24 17.2 10 5.2 12 4.3 20 3.7 20 2.9 42 1.1 16-1.9 28-6.4 8-0.5 0 53.8 -48 1.7 -46 3.6 -38 6.2 -43.5 8.7 -38.5 4.9 -14 1.2 -34 2 -40-0.9 -10-2.2 -30-9.6 -6-1.1 -6 0 -36 1.7 -38 6.3 -26 5.9 -14 2.5 -46 3.2 -25.1-1.9 -18.9-2.1 -28-6.4 -20-3.7 -30-7.1 -6-1 -8-0.3 0-67.2 8-0.4 6-1.1 10-3.3 7.1-3.4 5.9-4 23-17.7 8.4-8.3 3.5-6 2.1-8 3.8-54 -3.9-50 -2.2-8 -3.8-8 -3.3-4 -2.4-2 -12.2-7.3 -4-3.1 -16-17.7 -6.5-5.9 -5.5-3.3 -6-2.6 -6-1.4 -6-0.3 0-76 10-0.8 22.6-5.6 19.4-3.6 36-4.4 12-0.1 32 2.4 12 1.7 44.1 8 35.9 8.6 58.7 9.4 19.3 5.1 4-1.2 11-9.9 2.7-2 4.3-2.1 22-5.3 38-14.1 43.4-10.5zM430.7 265l-13.5 4 -10.2 1.9 -54 7.7 -14 4.2 -8 3.7 -6 3.9 -26 19.6 -9.6 9 -4.1 6 -3.6 8 -3.1 10 -1.5 8 -1 50 0.7 46 0.7 8 1 4 2.2 4 3.5 4 8.8 7.1 16 10.3 6 5.6 20 21 5.1 4 6.9 3.8 4 1.5 6 1.3 36 4.5 8-0.4 28-3.1 6-1.1 4-1.5 6-3.4 6.3-5.6 10.2-14 11.1-12 8.4-10.6 9-9.4 3.6-6 1-4 0.5-8 -0.8-86 -1.1-14 -0.9-4 -1.7-4 -9.6-13.4 -10.1-16.6 -8.6-12 -9.4-16 -5.9-7.2 -8-6.8 -4-2.3 -4 0.2zM771 212.8l10-1 0 64.8 -6-0.8 -4-1.9 -14-11.6 -12.9-9.3 -5.2-6 -2.1-4 -0.4-2 0.2-2 1.9-4 6.9-8 5.3-4 9.9-6 9.5-4z"/>
<path fill="#aed47a" d="M557 188.7l6-0.9 6 0.1 34 3.3 6.3 1.8 17.7 8.8 20 6.7 3.7 2.5 1.4 2 5.7 14 1.2 6 -0.7 4 -2.1 4 -9.9 12 -4 4 -6 4 -31.3 17.5 -4 2.9 -4 3.8 -4.3 5.8 -7.7 14.7 -4 6.3 -13.9 17 -11.1 18 -1.6 4 -1.2 6 -4.2 44 1.3 44 0.7 4 2 4.8 2.2 3.2 5.8 6.3 7.1 5.7 12.9 5.5 15 8.5 22.3 16 6.4 4 10.3 4.7 14 4.8 18 3.4 20 2.7 42 1.1 18-2 26-6 8-0.6 0 49.6 -50 1.8 -44 3.6 -36 5.9 -44 9.4 -50 6.3 -38 2.3 -40-0.9 -10-2.2 -32-10.7 -4-0.6 -8 0 -34 1.6 -38 6.7 -24 5.7 -16 3.2 -46 3.4 -28-2.5 -16-2.1 -24-5.8 -24-4.5 -30-7.4 -8-1.2 -6-0.2 0-63.4 8-0.3 6-1.3 12-3.8 8-3.7 4.8-3 23.2-17.3 5.2-4.7 4.8-5.5 3.7-6.5 2-8 4.1-54 -4.3-50 -2.9-10 -4-8 -2.6-2.8 -4-3.2 -12-6.6 -4-2.9 -16.8-18.5 -7.2-5.8 -6-3.3 -8-3.2 -4-0.8 -6-0.3 0-71.5 10-0.7 23.1-6.4 16.9-3.7 38-4.9 10-0.2 36 2.7 45.6 8.1 44.4 11.3 40 6.7 12 2.5 6 1.8 7.6 3.7 7.4 6 3.9 4 1.1 1.9 2-0.5 8-13.4 5.8-8 3.8-4 3.2-2 21.2-5.6 38-14.5 24-5.4 16.9-4.5zM432.6 249l-9.8 12 -6 4 -5.5 2 -14.3 3.1 -46 7.1 -14 4.3 -11.5 5.5 -27.3 20 -10.8 10 -3.1 4 -3.4 6 -3.2 8 -3 10 -1.3 10 -0.8 42 0.8 52 0.5 6 0.9 4 2 4 3.3 4 9.3 8 19.6 12.3 25.4 25.7 8.6 5.6 8 3.4 8 1.7 18 2.6 12 1.4 8 0.2 34-3.7 6-1.6 8-4.1 4.9-3.5 3.1-3.1 11-14.9 17-18.7 11.7-11.3 3.1-4 2.1-4 0.9-4 0.4-8 -1-88 -1.3-14 -1.2-4 -1.8-4 -4.9-7.3 -10-12.2 -13.7-20.5 -10.6-18 -11.5-14 -6.2-13.2 -2-3.4 -2-1.1zM771 214.9l4-0.9 6-0.4 0 58.8 -6-0.9 -4-2.1 -17.4-14.4 -4.5-4 -3.2-4 -2.1-4 -0.5-2 0.2-2 1.9-4 7-8 10.7-8 7.7-4z"/>
<path fill="#aed269" d="M555 190.8l8-1.5 6 0 30 3.1 8 2 14 7.2 20.8 7.4 3.5 2 1.8 2 0.9 2 3.2 12 0.5 4 -0.6 4 -2 4 -9 14 -3.5 4 -5.5 4 -26.1 15.1 -6 4.5 -4 4.1 -3.2 4.3 -6.8 12.2 -4 5.9 -21 23.9 -7 9.9 -3.3 6.1 -1.4 4 -0.9 6 -3.5 44 0.6 44 0.9 6 1.7 4 2.8 4 5.4 6 4.3 4 3 2 18.4 6.6 8 4 9 5.4 17 12.6 9.2 5.4 16.8 7 10 3.3 16 3 20 2.6 42 1.1 20-2 10-1.9 14-3.6 8-0.7 0 44.5 -52 1.9 -44 3.7 -28 4.5 -52 11.9 -36 5.1 -12 1.2 -38 2.4 -38-0.7 -6-0.9 -6-1.7 -34-11.9 -6-0.6 -22 0.6 -14 0.8 -28 5.2 -12 2.5 -26.4 6.7 -15.6 3.1 -44 3.3 -6-0.2 -34-4.3 -26-6.3 -22-4 -36-9.2 -6-1 -6-0.3 0-58.5 6-0.2 6-1.2 16-5.1 9.1-4.1 26.1-18 6.7-6 4.1-4.6 4.6-7.4 2.4-8 4.8-56 -4.7-50 -2.7-10 -3.7-8 -3.4-4 -3.3-2.7 -18-10.2 -4-3.8 -11.7-13.3 -7.1-6 -9.2-5 -8-3.3 -4-0.9 -6-0.4 0-66.2 10-0.9 24.4-7.3 16.3-4 33.3-4.7 12-0.7 34 2.4 8.2 1 32.5 6 8.9 2 44.4 12.5 40.7 7.5 10 4 6.1 4 4.3 4 1.9 4 -0.2 2 -1.7 4 -6 8 -5.1 3.3 -7.2 2.7 -8.8 1.9 -38 6.3 -16 5 -6.8 2.8 -7.2 4 -24 17.2 -10 8.9 -4 4.7 -3.4 5.2 -3.7 8 -2.9 8 -2.3 8 -0.9 6 -1.3 48 1.1 48 0.4 6 1 4 3.3 6 5.6 6 7.1 5.8 22 13.4 22 22.4 10 6.7 10 4.7 6 1.5 30 4.2 10 0.5 24-2.4 12-1.8 6-2.4 10-5.8 8.5-8.8 5.7-8 5.1-6 14.7-15 14.1-13 4.2-6 1.4-4 0.6-10 -1.1-46 -0.1-40 -0.6-12 -0.9-6 -2.3-6 -3.5-6 -4.3-6 -9.5-10.2 -6-7.9 -8-11.9 -8.9-16 -9.5-14 -4.3-16 0.6-6 2.4-6 3-6 3.9-6 1.8-2 3-2.1 16-4.6 40-16.4 23.9-4.9 15.4-4zM775 216.6l6-0.5 0 51.7 -6-1.1 -4-2.5 -14.7-13.2 -4.7-6 -1.5-4 0.9-4 6.3-8 9.2-8 6.9-4z"/>
<path fill="#aed15f" d="M563 190.9l16 1 22.4 3.1 5.6 2 12 6.2 15.4 5.8 3.8 2 2.4 2 1.3 2 2.1 8 1 8 -0.8 4 -1.8 4 -9.6 16 -6.9 6 -20.9 12.5 -9.2 7.5 -5 6 -7.8 12.9 -4 5.1 -12 13.1 -10.5 8.9 -3.8 4 -4.3 6 -4.3 8 -1.8 6 -0.8 6 -2.8 48 0 42 1.1 6 3 6 7.4 8 4.9 4 3.9 2 18 5.6 8 3.4 10 5.7 15 11.3 9 5.6 26 11.5 6 2.2 12 2.2 26 3.7 38 0.8 8-0.2 12-1.3 12-1.8 16-3.4 6-0.4 0 37.4 -48 1.5 -44 3.1 -36 6.2 -23.2 6.9 -26.2 6 -40.4 6 -36.2 2.6 -46-0.3 -6-0.9 -8-2.4 -34-13.6 -6-0.5 -28 0.1 -6 0.9 -15 4.1 -23 4.8 -16.9 5.2 -25.1 5.7 -44 3.9 -6 0 -27.1-3.6 -10.9-2 -18-4.8 -28-5.3 -29.4-7.9 -10.6-3.7 -8-0.8 0-51.1 6-0.4 4-1 22-8.1 8-3.7 24-15.4 6.9-5.8 5.5-6 5.1-8 1.7-4 1.5-6 5.7-56 -6-52 -3.7-12 -3.3-6 -3.4-3.8 -4-3.2 -6-3.6 -10-4.9 -4-2.7 -14-15.2 -6-5 -8-4.6 -12-5.9 -4-1.1 -6-0.5 0-59.7 6-0.3 4-0.8 33.3-10.7 12.7-3.1 14-2.3 16-2.1 8-0.5 29.7 2 16.3 1.9 32 6.4 50 15.7 28.9 6 7.3 2 7.8 3.5 5.7 4.5 2.1 4 -0.7 4 -4.8 8 -4.9 4 -4.6 2 -7.3 2 -33.5 6.5 -22 7.7 -10 5.4 -11.3 8.4 -12.1 8 -8.8 8 -5 6 -3.7 6 -10.7 26 -1.2 6 -1.2 16 -2 16 -2.8 14 3.1 18 3.3 36 1.4 4 2.5 4 8.5 9.5 10 7.8 20 11.4 6 5.2 16 16.5 6 4.4 12 6.6 4 1.9 6 1.6 32 5 8 0.4 34-3.9 4-1.4 14-8.2 12.2-12.8 5.8-7.8 4-4.4 12-11.4 16.7-14.4 4.8-6 2.4-6 0.5-8 -1.3-48 -0.1-40 -0.5-12 -0.8-6 -2.9-8 -4.8-8.5 -5.9-7.5 -10.1-9.5 -6-7.2 -4.9-7.3 -7.3-14 -7.3-12 -2.2-6 -2.6-14 0.6-6 2.4-6 4.8-8 4.2-4 12.3-5.3 7.6-4.7 8.5-4 15.9-6.2 10-4.6 18-2.9 26.8-6.3zM775 220.9l6-0.9 0 41.6 -6-1.2 -6-4.2 -9.1-9.2 -2.5-4 -0.5-2 0.8-4 3.3-4.5 8-7.8 5.9-3.7z"/>
<path fill="#aed051" d="M561 192.8l4-0.3 6.9 0.5 27.1 4.1 6 2.1 8 4.1 17.6 7.7 2.6 2 2.7 4 2.5 10 0.2 6 -1.2 4 -2 4 -6.9 12 -3.1 4 -4.7 4 -17.7 11.2 -8 6.8 -5.1 6 -8.9 13.2 -12 12.8 -6 5.7 -10 6.4 -6 5.2 -3.4 4.7 -4.3 8 -2.3 6 -1.1 6 -2.3 48 -0.8 46 0.6 6 2.4 6 7.2 8 5.1 4 3.6 2 5.1 2 18.2 5.1 10 4.2 8.2 4.7 13.8 10.8 8 5.1 21.8 10.1 10.2 5.5 4 1.4 34 5.9 12 0.9 36 0.2 18-1.6 22-2.9 8-0.4 0 27.7 -50 1.2 -42 2.3 -38 7.3 -14 6 -6 2 -28 6.9 -38 6.2 -38 3.1 -42-0.3 -8-0.7 -10-2.8 -18.4-7.9 -7.6-4 -6-4.1 -4-1.5 -34-1.9 -4 0.8 -8.7 4.7 -7.3 2.9 -22 5.6 -14.9 5.5 -15 4 -18.1 3.6 -40 3.4 -8-0.6 -26.3-4.4 -23.7-6.3 -29.8-5.7 -27.4-8 -12.8-6.9 -4-0.9 -4-0.3 0-39.9 4-0.2 4-0.9 12.5-6.9 21.5-9 22.5-13 9.9-8 7.6-9.6 5.1-10.4 1.6-6 3.3-23.6 2-9.1 2-4.8 2-1.3 2 0.9 2 2.2 4 6.2 5.6 11.5 6.1 16 3.5 4 12.8 6.8 12 11 5.8 4.2 24.2 13.8 6 5.1 14.9 15.1 7.1 4.9 16 9.1 6 1.8 32 6.1 8 0.7 34-4.3 4-1.7 14-9.8 8-9.2 7.9-7.6 8.5-10 13.6-11.8 13.1-10.2 4.1-4 3.3-4 2.5-4 1.2-4 0.4-4 -1.6-52 -0.1-44 -0.5-10 -1-6 -4.7-12 -6.3-10 -6.4-6.9 -12-9.8 -4-4.7 -4.1-6.6 -11.6-24 -1.2-6 -0.9-10 -0.1-4 0.8-4 3.1-6 4-4.7 12-8.9 6.6-6.4 6.7-4 14.7-5.9 8-4.5 4-1.6 6-1.2 11-0.8 26.1-6zM217 202.8l10-0.5 34 2.8 12.2 1.9 21.8 4.6 40.6 13.4 15.4 6.2 18 4.6 10.1 3.2 8.3 4 2.2 2 1 2 -0.5 4 -2.9 6 -3.9 4 -2.3 1.3 -6.8 2.7 -25.2 5.8 -26 9.7 -8.3 4.5 -28.5 20 -5.2 5.4 -5 6.6 -11 20.3 -4 4.3 -7.2 5.4 -3.8 4 -2.2 4 -5 12 -4.2 8 -5.6 8.1 -2 2 -2 0.8 -2-1.2 -2-4.2 -2-8.1 -3.3-21.4 -2.8-10 -3.1-8 -4.1-6 -4.4-4 -4.3-2.9 -18-9.4 -4-3.4 -10-10.8 -6.9-5.5 -21.1-12.3 -4-1.5 -6-0.6 0-51.7 6-0.4 4-0.9 16.6-6.6 27.4-8.5 12-2.6 18.9-2.9zM777 226.8l4-0.4 0 28 -6-1.1 -4-2.4 -5.6-5.9 -1.8-4 0.9-4 3-4 5.5-4.6 3.5-1.4z"/>
<path fill="#aed048" d="M561 194.7l4-0.3 8 0.8 24 4.5 8 2.8 18 8.5 4.7 4 2.2 4 2.2 8 0.4 6 -1 4 -1.9 4 -6.8 12 -3 4 -4.3 4 -12.5 8.4 -8 6.7 -4.6 4.9 -11.4 15.1 -14 14 -4 2.9 -12 6.2 -6 4.5 -4.6 5.3 -4.3 8 -2.9 8 -1.4 10 -3.2 92 0.6 8 1.4 4 3.1 4 4.2 4 5.2 4 3.6 2 8.3 3.1 20 5.3 10 4.1 9.3 5.5 12.5 10 6 4 20.4 10 13.8 8.5 4 2 36 6.9 8 0.9 40 0.3 48-3.1 0 17 -52 0.8 -40 1.7 -38 7.8 -4 1.5 -12 6.8 -6 2.4 -26 7.1 -38 6.7 -38 3.5 -44-0.6 -10-1.3 -8-2.8 -18-9.1 -4.2-3 -5.8-5.7 -4-2.6 -6-1.4 -28-3 -4 0 -6 2.4 -8.3 6.3 -7.1 4 -20.6 6.4 -12.1 5.6 -5.9 2.1 -15 3.9 -11 2.3 -26 2.1 -16 1.9 -8-0.6 -8-2 -12-2 -7.3-1.7 -16.7-5.2 -32-6 -10.9-2.8 -11.1-3.4 -6.2-2.6 -15.8-10.9 -4-1 -4-0.2 0-27.8 6-0.6 4-1.5 14.3-10 19.7-9 20-10.3 6-3.6 6-4.9 4-4.2 5.6-8 8.4-15.5 2-2 2-0.2 5.6 3.7 6.4 3.2 8.4 2.8 11.6 2.9 4 1.7 15.4 11.4 26.6 14.9 4 3.2 11.6 11.9 4.4 3.7 20 13.2 6 3.1 22 4.9 16 4.4 4 0.5 34-4.5 4-1.2 4-2.7 5.4-5.4 6.6-5 8-10.2 11.7-10.8 6.3-6.9 31.8-25.1 6.6-8 2-4 0.8-4 -2.1-54 -0.3-50 -0.4-6 -1.2-6 -5.2-13.9 -6.1-10.1 -7.8-8 -14.1-9.8 -3.5-4.2 -2.3-4 -8-18 -1.9-6 -0.5-10 0.4-6 0.9-4 1.8-4 3.1-4 8-7.3 8.3-10.7 5.7-4.4 12-5.3 10-6 4-1.6 6-1.3 18.8-1.4 17.3-4zM213 204.7l6-1 6-0.2 32 2.9 14 2 21 4.6 7 2.2 14 5.9 16.8 5.9 19.2 8.8 14.5 5.2 6.9 4 1.7 2 0.7 2 0.2 4 -0.9 4 -1.2 2 -2.3 2 -4 2 -17.6 5.5 -28 11.2 -6.1 3.3 -11.9 8.8 -14.8 9.2 -4.9 4 -3.6 4 -4.3 6 -6.4 10.7 -4 4.6 -20.2 10.7 -13.8 10 -2-0.1 -2-2.2 -9.1-19.7 -2.9-4 -4.2-4 -9.8-6.5 -16-7.5 -4-3.3 -10.7-10.7 -15.6-10 -11.7-8.6 -4-1.6 -6-0.6 0-43.1 6-0.3 4-1 19.8-8.8 26.2-8.8 10-2.5 14.5-2.7zM775 234.7l6-1.3 0 13.6 -6-1.3 -3.2-2.7 -0.9-2 0.1-2 1.1-2 2.4-2z"/>
<path fill="#afd147" d="M541 205l14-0.2 10-0.7 4 0.7 4 1.6 6 4.3 8.5 4.3 4.5 4 2.7 4 2.9 6 1 4 -0.1 4 -1.2 4 -4.3 9.6 -6.1 10.4 -5.9 6.2 -16 13.9 -4 2.4 -6 1.6 -30 2.8 -8-0.9 -5.4-2 -4.6-2.5 -6.6-5.5 -5.5-8 -1.7-4 -0.6-4 2.5-14 -1.1-12 0.6-6 2.4-5.7 3.6-4.3 9.7-8 6.3-4 6.4-1.6 17.9-0.4zM215 210.9l6-1.1 8 0.7 38.1 8.5 7.9 2.4 6 2.6 7.7 5 4.1 4 17.1 24 0.7 2 -0.2 2 -1.5 2 -2.4 2 -7.5 5.1 -5.2 10.9 -4.3 6 -4.5 3.7 -6 3.8 -8 3.8 -6 1.1 -40 2.5 -8-1.2 -4.5-1.7 -7.5-4.2 -10.1-3.8 -9.9-5.5 -10-8.4 -10.3-10.1 -3.2-4 -1.4-4 0.4-8 1.8-6 3-4 7.7-5.6 12-6.1 5.5-6.3 4.5-3.4 8-4 11.6-4.6zM521 480.9l4 0.2 18 3.6 22 3.5 7.6 2.8 5.2 4 13.2 13 8 6.9 22.4 16.1 5.4 6 1.5 4 -0.2 2 -2.2 4 -6.6 6 -10.1 6 -13.6 6 -11.5 4 -15.1 4.1 -8 1.5 -12 1.1 -18 4.3 -52-1.1 -4-0.4 -5.4-1.5 -6.4-4 -3.5-4 -9.4-20 0-2 4-18 2.7-6.4 4.1-5.6 15.9-12 26-17.5 6-3.1 11.2-3.4zM261 496.9l6 0.1 4 1.4 34 18 6 4.4 11.5 10.2 12.5 14 1.1 2 1 4 0 8 -0.8 4 -2.4 4 -5.8 6 -5.6 4 -5.5 2.5 -8 2.4 -14 1.4 -26 4.7 -6 0.1 -4-0.7 -6-2.4 -7.5-4 -12.5-7.3 -8-5.4 -26.5-5.3 -13-4 -6.5-4.2 -9.9-9.8 -1.1-2 -0.3-2 0.5-2 3.3-4 10-8 13.6-8 17.4-8 12.5-5.1 35.3-8.9z"/>
<path fill="#b0d146" d="M521 206.8l34-0.7 8-0.7 6 0.7 5.5 2.9 4.5 4.9 7.2 5.1 3.2 4 3.5 6 1.5 6 -0.6 4 -4.8 10.6 -5.6 9.4 -5.5 6 -10.9 9.5 -6 4 -4 1.4 -28 4.3 -6 0.3 -4-0.4 -4-1.4 -6-3.8 -5.6-5.9 -3.8-6 -1.4-4 -0.7-10 -2.2-16 0.2-6 1-4 2.5-4.4 4-4.1 12-9.4 5.1-2.1zM221 210.9l6 0.4 7.3 1.7 34.7 8.6 9.6 3.4 4.4 2.7 4 3.9 7.1 9.4 3.4 6 1.5 5 3.3 7 -0.1 2 -3.2 4 -2 3.6 -3 8.4 -2.9 6 -4.1 4.6 -8 5.6 -8 3.8 -6 1.2 -40 2.2 -4-0.2 -4-0.9 -5.1-2.3 -8.9-6.1 -20-12 -9.1-7.9 -7.1-8 -1.5-4 0.5-8 2-6 3.2-3.7 4-3 10-5.5 5.6-7.8 4.8-4 7.6-4 9.5-4 7.7-2zM523 483l20 3.5 22 3.1 6 2 6.9 5.4 23.1 23.5 12 8.1 5 4.4 3.1 4 1.2 4 -0.2 2 -1.9 4 -6.6 6 -6.6 3.8 -17.9 8.2 -22.1 6.8 -6 1.2 -10 0.8 -18 4.8 -4 0.5 -50-1.4 -8-1.4 -6-3.3 -4-4.3 -2.9-5.7 -4.6-14 0-10 1.5-8 3-8 4.5-6 14.5-10.5 28-18.7 6-2.7 11-2.1zM259 501l6-0.7 6 1.6 36 19.8 6 4.5 5.1 4.8 7 8 4.4 6 1.6 4 0.5 4 -0.3 8 -1.3 4 -4.4 6 -4.4 4 -6.2 3.5 -6 1.9 -14 1.5 -27 5.1 -5 0 -4-0.8 -6-2.6 -16-9 -14-9.8 -17.8-3.8 -12-4 -10.2-5.4 -4-3.2 -3.2-3.4 -1.1-2 -0.3-2 0.5-2 3.5-4 6.6-4.7 18.8-11.3 15.2-7.5 4-1.4 35.8-9.1z"/>
<path fill="#b1d145" d="M561 206.9l4-0.2 4 0.9 4 2 3.4 3.4 2.6 5.1 6 6.4 4.2 6.5 0.9 4 -1.4 6 -5.7 10.2 -7 9.8 -6 6 -7 5.4 -4 1.8 -4 1.1 -28 5.3 -6 0.1 -4.7-1.7 -11-8 -3-4 -2.4-8 -3.2-22 0.1-6 1.2-4 2.4-4 4-4 10.1-8 4.5-2.4 6-1 30-0.1 5.2-0.5zM217 212.7l4-0.6 6 0.4 42 11 8 2.5 4 2.3 3.1 2.7 9.2 12 3.6 8 0.8 8 -1.9 8 -4.1 12 -2.7 4.7 -4 4 -8 5.3 -6 2.8 -6 1.1 -12 0.3 -28 1.9 -4-0.2 -4-1.1 -4-1.8 -7-5 -15-13.1 -10-5.7 -5.9-5.2 -3.1-4 -1.5-4 0.2-6 1.5-6 2.8-4 10-6.8 5.8-9.2 4.2-4.1 8-4.4 13.1-5.5zM511 486.5l4-0.7 10-0.4 16 2.7 24 2.9 4 1.2 6 4 9 8.8 15 16 4 5 4.8 3 4.7 4 2.8 4 1 4 -0.8 4 -2.6 4 -5.9 4.3 -12 4.9 -13.1 6.8 -16.9 5.4 -14 1.8 -16.7 4.8 -5.3 0.9 -54-1.9 -6-1.9 -4-2.7 -2-2.1 -2.7-4.3 -1.5-4 -4-16 0.6-10 1.4-6 2.4-6 2.9-4 4.9-4.1 36-24.4 6.7-3.5zM259 504.7l6-0.8 6 1.7 24 14.5 12 5.8 4 2.7 4.6 4.4 7.3 10 2 4 0.9 4 0.2 8 -1.2 6 -3.8 6 -4.2 4 -3.8 2.2 -5.6 1.8 -10.4 1.1 -28 5.6 -6 0.1 -3.9-0.8 -4.6-2 -19.5-11.2 -14-10.4 -10-2.7 -9.9-3.7 -14.7-8 -2.6-2 -1.6-2 -0.4-2 0.8-2 1.9-2 24.5-16.1 10-7.4 4-1.4 19.5-3.1 15.1-4z"/>
<path fill="#b2d244" d="M525 209l30-0.1 8-0.7 6 0.9 4 2.4 3 3.5 1.8 4 1.2 4.9 4.9 7.1 1.4 4 -0.3 2.6 -2 4.4 -1.2 5 -2.8 5.5 -12 11.6 -3.7 2.9 -6.3 2.6 -32 6.5 -4-0.2 -10-2.9 -4-2.5 -3-3.5 -2.6-8 -3.4-24 1-6.7 1.7-3.3 2.3-2.8 8.4-7.2 5.6-4 4-1.5 3.8-0.5zM215 214.7l6-1.4 6 0.6 48 13 4 2 4 3.2 8 10.3 3.6 6.6 1.1 4 0.3 4 -0.8 6 -4.1 14 -2.1 4.4 -4 4.7 -8 5.5 -6 2.9 -6 1.2 -12 0.2 -28 1.8 -6.2-0.7 -4.7-2 -7.1-5.2 -12.1-10.8 -4.9-6 -1-2.1 -7.8-3.9 -3.8-4 -1-2 -0.7-4 1.2-8 2.4-4 3.7-2.6 2-2.7 6.1-10.7 3.5-4 2.7-2 16.8-8zM509 488.7l4-1.2 4-0.4 8 0.5 38 4.5 6 1.6 4.9 3.3 11.1 11 13.8 15 2.7 4 1.5 3.6 3.4 2.4 1.8 2 1.8 4 0 4 -0.5 2 -2.5 3.5 -4 2.5 -6 1.9 -4 3.7 -4 2.3 -24 9.2 -12 2.1 -20 5.8 -4 0.7 -10-0.7 -16-0.1 -8-0.8 -18-0.2 -6-1.3 -4.5-2.6 -3.5-3.9 -2.1-4.1 -4.6-18 0.4-10 1.4-6 2.4-6 2.5-3.3 4-3.4 36-24.2 5.4-3.1zM259 508.8l6-0.9 6 1.9 20 13.3 6 3.4 10.9 4.5 3.1 2.5 2.9 3.5 4.7 8 1.3 4 0.8 6 -0.7 8 -2.4 6 -3.1 4 -2.5 2 -5 2 -8 1 -30 6.4 -6 0.2 -4-1 -22.7-12.6 -17.3-13.1 -16.4-8.9 -6.2-4 -2-2 -0.8-2 0.8-2 10.6-8.5 0.5-1.5 6.5-8 4.2-4 2.8-1.8 6-2 33.1-4.2z"/>
<path fill="#b8d444" d="M521 211l4-0.5 30-0.1 10-0.7 4.6 1.3 2.9 2 1.7 2 2.6 6 3.2 14 0.5 8 -0.5 4 -1.8 4 -3.2 3.5 -12 9.5 -6 3 -32 4.8 -8 0.5 -6-1 -3.5-2.3 -1.7-2 -2.5-6 -2.6-16 -1.2-10 0.8-6 2.2-4 4-4 10.1-8 4.4-2zM219 214.9l4-0.2 4 0.6 48 13.2 4 2.2 2.8 2.3 9.2 12 2.7 6 0.8 6 -1.4 8 -4.3 14 -2.5 4 -4.5 4 -6.8 4.3 -6 2.5 -44 2.5 -4-0.2 -3.8-1.1 -3.6-2 -4.6-3.5 -12-10.5 -4.7-6 -5.3-9.6 -3.1-2.4 -1.1-2 -0.2-2 1-10 2.6-6 6.6-12 4-4 3.2-2 13-6.1 5.6-1.9zM513 488.9l6-0.1 36 3.8 10 1.3 4 1.4 2.7 1.7 4.3 4 20.9 22 2.8 4 2 6 0.3 4 -1 2 -0.2 4 -1.8 2.6 -1.3 3.4 -2.7 3.7 -4 3.5 -4 1.9 -18 5.9 -36 10.6 -6 0.7 -8-0.7 -16-0.1 -8-0.8 -18-0.2 -4-0.6 -4-1.8 -2-1.5 -3.7-4.6 -2.3-6 -2.5-10 -1-6 0.6-8 2-8 3.4-6 4.7-4 35.9-24 4.9-2.8 3.6-1.2zM259 510.8l6-0.3 6 2 20.1 12.5 11.9 9.5 4 2.3 2 2 6.7 8.2 2.5 6 0 6 -1.4 4 -3.8 5.6 -4 4.1 -12 4.3 -28 6 -6 0.2 -4-1 -23.3-13.2 -24.8-20 -3.4-4 -2.1-4 0.3-6 2.1-6 5.2-7 6-5.2 6-2.1 33.1-3.7z"/>
<path fill="#bed644" d="M521 212.7l4-0.7 30 0 10-0.7 4 1.2 4 3.6 2.2 4.9 2.3 12 1.3 8 -0.5 6 -1.3 2.9 -2.7 3.1 -11.3 9.1 -5 2.9 -3 0.8 -38 5 -4-0.5 -2-0.8 -4-3.7 -2-4.7 -0.8-4.1 -3-20 0.2-6 1.6-4 2-2.5 8.8-7.5 6.3-4zM217 216.9l4-0.8 6 0.7 48 13.4 6 4.2 6.8 8.6 3.6 6 1.5 6 -0.4 6 -3.6 14 -2.9 6 -3 3.3 -6.7 4.7 -5.3 2.7 -6 1.3 -14 0.2 -26 1.7 -4-0.3 -4-1.3 -4-2.6 -13.7-11.7 -4.3-4.7 -7.2-13.3 -2.4-6 -0.5-4 1.2-6 6.9-13.7 3.6-4.3 6.5-4 13.5-6zM511 490.9l6-0.8 46 4.9 4 1 4.9 3 10.1 10 13 14 3.1 4 1.5 4 0.3 6 -3.2 10 -4 6 -5.7 3.5 -44 13.7 -14 3.7 -10-0.7 -16-0.1 -8-0.9 -18-0.1 -4-0.7 -4.5-2.4 -3.5-3.9 -1.8-4.1 -4.1-16 0-8 1.8-8 1.5-4 2.6-3.7 4-3.2 34.6-23.1 7.2-4zM253 513l10-1 4 0.6 5.3 2.4 13.1 8 7.6 5.2 17 14.8 5 5.8 1.6 4.2 0 6 -1.6 4.2 -3.3 3.8 -6.7 4.5 -8 3.9 -30 6.4 -4 0 -4-1.1 -24-13.9 -22-17.9 -4-4.8 -1.8-5.1 0.4-6 1.9-4 5.5-7 6-4.6 4-1.2 27.8-3.2z"/>
<path fill="#c4d842" d="M521 214.5l6-0.8 28 0 10-0.6 4 1.5 2.5 2.4 2.4 6 2.9 16 0.4 4 -0.7 4 -1.5 2.7 -2 2.1 -10 8.1 -4.8 3.1 -3.2 1 -38 5 -4-0.6 -4-2.8 -2-3.9 -1.1-4.7 -3-20 0.3-6 1.8-3.7 2-2.3 8-6.7 4.9-3.3zM217 218.5l4-0.8 4 0.2 47.6 13.1 4.4 2.1 2.4 1.9 3.6 4.2 5.6 7.8 1.9 4 0.9 6 -0.9 6 -3.2 12 -2.3 4.8 -2 2.4 -3.4 2.8 -8.6 5.1 -6 1.3 -14 0.3 -26 1.6 -4-0.3 -4-1.5 -3.6-2.5 -12.4-10.6 -4-4.1 -3.3-5.3 -5.9-12 -1.1-4 0.5-6 5.8-12.5 4-5.8 5.5-3.7 13.2-6zM511 492.5l6-0.9 46 4.9 4 1.1 4 2.6 10.9 10.8 12.9 14 2.2 3.2 1.1 2.8 0.2 6 -3.2 10 -2.1 3.4 -2 2.1 -4 2.4 -44 13.8 -14 3.7 -10-0.7 -16-0.1 -8-0.8 -18-0.2 -4-0.8 -4-2.3 -2.3-2.5 -2-4 -4.1-16 -0.2-4 0.6-6 1.4-6 1.7-4 2.9-3.6 3.2-2.4 39.7-26zM251 514.7l10-1.1 4 0.1 4 1.2 3.8 2.1 16.2 10.1 9.8 7.9 12.2 11.1 2.3 2.9 1.8 4 0 6 -2.1 4.4 -4 3.8 -8 4.9 -6 2.3 -28 6 -4-0.1 -4-1.2 -22-12.7 -22-17.7 -3.6-3.7 -2.2-4 -0.5-6 1.4-4 4.9-6.8 6-5.1 4-1.4 24.1-2.7z"/>
<path fill="#ccdb41" d="M521 216.7l6-1 28-0.1 8-0.6 4 0.8 2 1.4 2 3.2 0.8 2.6 3.2 17.5 0 4.5 -2 4 -2 2 -10 8 -3.3 2 -4.7 1.3 -36 4.7 -4-0.8 -2-1.4 -2-3.5 -1.1-4.3 -3-20 0-4 1.4-4 1.5-2 7.2-6.2 5.4-3.8zM217 220.3l4-0.9 4 0.2 46 12.7 5.8 2.7 4 4 5.8 8 2.1 4 1 4 -0.5 6 -3 12 -2.7 6 -3.9 4 -8.6 5.3 -6 1.5 -14 0.2 -8 0.9 -12 0.1 -6 0.6 -4-0.3 -6-3.1 -16-14.1 -3.4-5.1 -6.6-13.8 -0.7-4.2 0.6-4 6.1-12.7 4-5.1 6-3.6 10.3-4.6zM511 494.2l6-1.1 28 2.9 18 2.1 3.3 0.9 2.7 1.5 10.8 10.5 13.2 14.3 2 2.5 1.5 3.2 0.3 6 -2.5 8 -3.3 5.4 -4 2.8 -44 13.9 -14 3.8 -8-0.6 -18-0.2 -8-0.9 -18-0.1 -4-0.9 -2.2-1.2 -2.2-2 -2.3-4 -4.1-16 0-8 1.2-6 1.6-4.5 2-2.9 3-2.6 39.2-26zM245 516.9l18-1.8 4 0.7 2.7 1.2 15.3 9.3 6.7 4.7 17.3 15.2 2.5 2.8 2 4 0.4 4 -0.4 2 -2.1 4 -4.4 3.7 -6 3.6 -6 2.6 -28 5.9 -4-0.1 -4-1.3 -21.4-12.4 -22.2-18 -2.4-2.4 -2.2-3.6 -0.7-4 0.9-4.4 4-6 5.8-5.6 4.2-1.8 19.2-2.2z"/>
<path fill="#d4dd40" d="M523 218.4l4-0.6 36-0.5 2 0.3 2.4 1.4 1.4 2 1.2 4 2.9 16 -0.3 4 -2.7 4 -13.1 10 -3.8 1.1 -34 4.4 -4-0.1 -2.4-1.4 -1.3-2 -1.1-4 -3.1-20 0-4 1.9-4 2-2 10.4-8zM217 222.2l4-1.1 6 0.8 44 12.2 4 1.8 3.5 3.1 6.1 8 2.2 4 1.1 4 -0.1 4 -2.9 12 -2.2 6 -3.7 4.3 -8 5.1 -6 1.6 -14 0.3 -8 0.8 -20 0.8 -4-1.2 -2.6-1.7 -16-14 -3.4-5.1 -6.2-12.9 -0.7-4 0.7-4 5.8-12 3-4 5.4-3.5 10.1-4.5zM515 494.7l46 4.7 5.9 1.6 2.7 2 8.1 8 14.8 16 1.4 2 1.4 4 -0.1 4 -2.6 8 -2.4 4 -3.2 2.5 -6 2.3 -50 15.2 -4 0.4 -6-0.7 -16-0.1 -8-0.8 -18-0.2 -4-0.4 -4-2 -2-2.3 -1.8-3.9 -3.1-12 -0.6-4 0.2-6 1.9-8 2.2-4 4.9-4 33-22 5.3-3.2 2.4-0.8zM259 517l6-0.2 4 1.5 20 12.6 18.6 16.1 3.3 4 1.4 4 -0.5 4 -2.5 4 -10.3 6.7 -6 2 -26 5.6 -4-0.1 -4-1.5 -21.6-12.7 -21.9-18 -2.5-3.2 -1.1-2.8 0-4 1.7-4 4.8-6 4.6-3.5 4-1 31.9-3.5z"/>
<path fill="#dce040" d="M523 220.9l4-0.7 34-0.3 2 0 2.6 1.1 1.4 1.9 0.6 2.1 1.9 10 1 6 -0.5 4 -3.6 4 -7.6 6 -3.4 2 -2.4 0.7 -30 4.2 -6 0.3 -2.6-1.2 -1.2-2 -1-4 -2.6-18 0.1-4 0.9-2 1.8-2 6.6-5.5 3.9-2.5zM221 222.9l6 0.8 44 12.2 5.1 3.1 6.3 8 3.3 6 0.5 4 -2 10 -2.5 8 -2.7 3.9 -2 1.7 -6 3.8 -4 1.6 -44 2.1 -3.3-1.1 -2.7-1.7 -12.1-10.3 -3.9-4 -2.5-4 -5.9-12 -0.7-4 0.7-4 4.9-10 3.5-4.9 6-3.6 10-4.5 3.6-1zM513 496.7l4-0.5 36 3.8 10 1.2 4.1 1.8 11.9 11.6 12 13 2.2 3.4 0.7 4 -2.1 8 -2.8 5 -4 2.8 -44 13.7 -12 3.3 -24-0.7 -10-0.9 -16-0.1 -4-0.5 -2-0.9 -2-1.8 -2.1-3.9 -3.9-16 0.6-8 0.9-4 1.8-4 4.7-4.4 34-22.7 5.3-2.9zM255 518.9l8-0.7 4 0.9 18 10.8 10 7.8 12 10.8 2.1 2.5 1.6 4 -0.5 4 -1.2 2 -4 3.3 -8 4.6 -10 2.7 -20 4.1 -4-0.1 -2-0.7 -22-12.6 -22-18 -2.7-3.3 -0.8-2 0-4 1.5-3.2 4-5.2 4-3.3 4-1.3 26.9-3z"/>
<path fill="#e4e242" d="M527 223l34-0.3 2 0.5 1.6 1.8 2.9 14 0.1 4 -0.6 1.6 -2.2 2.4 -7.8 6.1 -3.6 1.9 -2.4 0.6 -28 3.9 -4 0 -2-0.6 -1.4-1.9 -0.6-2 -2.6-18 0.5-4 1.6-2 6.5-5.4 2-1.3 3.8-1.3zM221 224.7l6 0.8 44 12.3 4 2.5 2.3 2.7 5.7 8 1.4 4 -0.1 4 -1.9 8 -1.7 6 -2.3 4 -5.4 4.2 -6 3 -4 0.5 -14 0.3 -6 0.7 -20 0.6 -2-0.6 -4-2.6 -14-12.3 -2.6-3.8 -5.9-12 -0.9-4 0.9-4 4.9-10 3.2-4 4.4-2.7 12.5-5.3zM513 498.3l4-0.6 44 4.7 4 1.1 2 1.3 10.4 10.2 11.6 12.6 2.5 3.4 0.9 4 -1.4 6 -2 4.5 -2 2.3 -2 1.3 -56 17.2 -24-0.6 -10-0.9 -16-0.1 -4-0.8 -1.7-0.9 -1.8-2 -1.7-4 -3.3-14 0.2-6 2.3-8.2 1.2-1.8 2.8-2.6 38.4-25.4zM251 520.9l12-1.2 2 0.3 4 1.8 14 8.6 6 4.3 16.4 14.3 1.8 2 1.8 3.6 0 2.8 -2.1 3.6 -9.9 6.3 -10 2.8 -20 4.1 -4-0.2 -2-0.7 -20-11.5 -22-17.7 -2.9-3.1 -1-2 -0.3-2 1.2-4 3-4.2 4.1-3.8 3.9-1.5 23-2.5z"/>
<path fill="#ece444" d="M219 226.9l2-0.5 4 0.3 44 12.1 4 2 2 1.9 7.1 10.3 0.6 2 -0.1 4 -2.9 12 -1.8 4 -2.9 2.9 -6 3.8 -6 1.4 -40 1.5 -4-2 -14-12 -2.7-3.6 -6.1-12 -0.9-4 0.3-2 4.6-10 2.8-4.1 4-2.7 11.6-5.2zM529 227l26-0.8 4 0.7 2 2.1 2.1 10 -0.1 4 -1.3 2 -4.8 4 -3.9 2.6 -4 1.4 -22 3.2 -4 0 -2.9-1.2 -1.1-2.6 -1.8-11.4 -0.2-4 0.5-2 1.4-2 4.1-3.3 2-1.4 3.8-1.3zM511 500.8l4-1.5 2-0.2 44 4.7 4 1.3 10.5 9.9 14.4 16 1 4 -0.7 4 -2.6 6 -2.6 2.5 -6 2.3 -50 15.1 -24-0.6 -10-0.9 -16-0.1 -4-1 -2-1.7 -1.8-3.6 -3.3-14 0.3-6 2.3-8 4.5-4.3 35.7-23.7zM245 522.9l18-1.7 4 1.1 20 12.6 16.4 14.1 3.4 4 0.8 2 -0.1 2 -0.9 2 -3.6 3.2 -6 3.6 -6 1.9 -24 5.1 -4-0.3 -2-0.8 -20-11.6 -21.2-17.1 -3.1-4 -0.4-2 1.4-4 3.3-4.3 4-3.1 19.1-2.6z"/>
<path fill="#f4e848" d="M219 228.5l4-0.5 4 0.8 42 11.7 4.1 2.5 7.3 10 0.7 2 -0.1 4 -2.4 10 -1.6 4.3 -3.4 3.7 -6.6 3.9 -4 0.8 -14 0.2 -8 0.8 -18 0.2 -2-0.8 -4-3 -11.3-10.1 -2.8-4 -5-10 -0.9-4 0.2-2 4.7-10 3.1-3.7 4-2.4 8.9-3.9zM543 231l8 0.1 2 0.7 1.4 1.2 1.7 6 -0.3 4 -3.6 4 -5.2 2.9 -16 2.4 -4-0.4 -2-1.9 -1.6-9 0.6-4 3-3.1 4-2.1 10.6-0.8zM515 500.7l8 0.3 30 3.2 8 1 4 1.6 10.5 10.2 11.5 12.5 2.2 3.5 0.1 4 -2.3 6.3 -2 2.4 -6 2.7 -50 15.2 -48-1.5 -4-0.6 -2-1 -2.3-3.5 -3.4-14 0.7-8 1.1-4 1.2-2 6.7-5.3 30-20 5-2.7zM257 523l6-0.4 2 0.4 18 10.7 10 7.9 10 8.9 2.1 2.5 0.9 2 -0.1 2 -1.2 2 -3.7 2.9 -6 3.3 -28 6.2 -4-0.4 -2-0.8 -20-11.7 -20-16.3 -2.6-3.2 -0.5-2 0.4-2 2.7-4.2 2-2.2 4-2.2 29.8-3.4z"/>
<path fill="#e8c43c" d="M219 234.3l4-0.9 4 0.6 36 9.8 3.6 1.2 2.4 1.5 6 8.2 0.5 4.3 -2.5 10 -1 2 -3 3 -4 2.3 -6 1.1 -32 1.2 -4-1 -4-3.1 -10.1-9.5 -5.3-10 -0.9-4 1.2-4 3.2-6 2.1-2 8.2-4zM515 504.7l6-0.4 32 3.6 7 1.1 3 1.4 8.8 8.6 12.4 14 0.6 2 -0.1 2 -1.5 4 -1.8 2 -2.4 1.3 -50 15.8 -24-0.4 -22-1.1 -4-0.9 -2.4-2.7 -2.9-12 0.1-4 0.7-4 1.7-4 6.8-5.5 31.4-20.5zM261 526.9l2 0.1 4 1.6 16 9.8 14.5 12.6 1.9 2 1 2 -0.5 2 -2.1 2 -6.8 3.5 -24 5 -2-0.2 -4-1.6 -18-10.7 -14.7-12 -4-4 -0.8-2 0.6-2 1.5-2 3.4-2.2 8-1.4 22.1-2.4z"/>
<path fill="#e5b836" d="M221 236.3l4-0.5 4 0.8 31.1 8.4 4.9 1.9 2 1.6 4.5 6.5 0.6 4 -2.7 10 -2.4 3 -4 2.5 -6 1.1 -28 1.3 -4-0.6 -4.8-3.3 -6.5-6 -3.5-4 -4-8 -0.7-4 1.4-4 2.2-4 2-2 8-4zM515 506l4-0.7 4 0.3 30 3.4 6 1.1 2.3 0.9 9.7 9.4 11.3 12.6 0.7 2 -0.8 4 -1.1 2 -2.4 2 -11.7 4.3 -38 11.8 -4 0.3 -20-0.7 -20-1.1 -4-0.6 -2-1.4 -1.4-2.6 -2.2-10 0.1-4 0.7-4 1.9-4 4.8-4 30.1-20zM255 528.9l6-0.5 4 0.8 12 6.8 6 3.9 8 6.9 6.2 6.2 0.9 2 -1.1 2.3 -6 3.8 -6.9 1.9 -15.1 3 -4-0.1 -2-0.7 -16-9 -14.1-11.2 -6-6 -0.6-2 0.8-2 3.9-2.6 6-1.4 17.4-2z"/>
<path fill="#e2ad32" d="M223 238.7l2-0.3 4 0.6 28 7.5 5.2 2.5 1.9 2 2.4 4 0.5 2 -0.3 4 -1.7 6 -1.2 2 -2.8 2.5 -3.6 1.5 -20.4 1.4 -10 0 -4-2.1 -6-5.4 -3.6-3.9 -2.3-4 -1.8-4 -0.3-4 1.6-4 2.4-3.2 4-2.6 5.1-2.2zM517 506.6l6 0.1 28 3.2 8 1.6 4.6 3.5 13.4 14 3.2 4 0.6 2 -0.8 4 -1.3 2 -2.9 2 -36.8 12.1 -10 3 -6 0.3 -38-1.9 -4-1.3 -1.6-2.2 -2.3-12 0.9-6 2-4 7-5.4 24-16 4.7-2.6zM253 530.8l8-0.8 2 0.2 4 1.5 15.2 9.3 9.2 8 3.6 4 0.5 2 -1.1 2 -3.4 2.3 -6 2.1 -16 3.2 -4-0.1 -2-0.8 -15.3-8.7 -14.8-12 -3.2-4 0-2 1.3-1.7 4-2 16.1-2.3z"/>
<path fill="#dfa42f" d="M221 242.8l4-1.4 4 0.2 24 6.5 2.5 0.9 2.8 2 2.7 4 0.6 2 -0.3 4 -2.4 6 -3.9 2.9 -6 1.2 -18 0.9 -4-0.6 -2-1.1 -7.9-7.3 -2.6-4 -1.7-4 0-4 2.1-4 2-2 3.6-2zM515 508.5l4-1 4 0.2 28 3.3 7.7 2 8.4 8 10.8 12 0.6 2 -0.8 4 -1.6 2 -3.1 1.9 -32 10.5 -14 4 -38-1.5 -6-1.4 -1.6-1.5 -0.8-2 -1.6-8 0.3-6 1.7-4.8 2-2.3 3.9-2.9 27.1-18zM249 532.9l12-1.3 4 0.7 15 8.7 11.2 10 1.3 2 0.1 2 -1.6 2 -2 1.2 -6 2.2 -14 2.8 -3.8-0.2 -2.2-0.8 -12.8-7.2 -10.3-8 -6.2-6 -0.8-2 0.7-2 1.4-1.1 4-1.5 8.9-1.4z"/>
<path fill="#db9a2c" d="M225 244.7l2-0.3 4 0.5 16 4.3 4 1.5 2 1.4 2.2 2.9 0.6 4 -1 4 -1.2 2 -2.6 2 -6 1.3 -14 0.7 -4-1 -2-1.4 -6-6.2 -1.8-3.4 -0.7-4 0.5-2 2-2.9 5.3-3.1zM517 508.9l6-0.1 28 3.4 4.1 0.8 3.7 2 13.6 14 3.1 4 0.7 2 -1 4 -1.8 2 -4.4 2.3 -36.3 11.7 -5.7 1.4 -36-1.4 -4-0.6 -3.2-1.4 -1.8-4 -1.3-8 0.8-6 2.2-4 5.1-4 21-14 7-4zM247 534.8l14-1.6 4 0.7 14 8.1 9.8 9 1 2 -0.4 2 -2.4 2.1 -4.9 1.9 -13.1 2.6 -4-0.2 -2-0.8 -10.1-5.6 -5.7-4 -9.1-8 -1.4-2 -0.2-2 0.5-0.8 2-1.6 6.5-1.6z"/>
<path fill="#d78f2a" d="M225 248.6l2-0.7 4 0 11.6 3.1 4.4 2 1.8 2 0.8 4 -0.6 2.1 -2 2.4 -4 1.6 -8 0.6 -4 0 -4-1.6 -4.8-5.1 -1.5-4 0.2-2 1-2 2.4-2zM515 511l4-1.2 4 0.1 26 3.1 6.9 2 2.5 2 9.7 10 5 6 0.6 2 -0.2 2 -0.9 2 -2 2 -9.9 4 -33.7 10.4 -32-1.2 -8.1-1.2 -2.2-2 -2-8 0.1-6 1.3-4 3.8-4 27.1-18zM261 534.9l2 0.1 4 1.3 10 6 7.7 6.7 1.6 2 0.7 2 -1.1 2 -3.4 2 -13.5 3 -4-0.2 -2-0.8 -10.5-6 -9.8-8 -1.8-2 -0.9-2 0.6-2 4.3-2 15.1-2z"/>
<path fill="#d38129" d="M227 252.7l2-1 2-0.1 8 2.2 2.1 1.2 1.2 2 -0.2 2 -1.1 1.3 -2 1 -4 0.7 -4-0.3 -1.8-0.7 -2.2-2 -1.1-2 -0.3-2 1-2zM519 510.9l26 2.8 8 1.6 4 2.8 10.5 10.9 3.1 4 0.6 2 -0.2 2 -1 2 -2.4 2 -2.6 1.2 -38 12.1 -6 0.1 -30-1.7 -3.9-1.7 -1.1-2 -1-4 -0.6-4 0.3-4 1.2-4 1.6-2 25.5-17.5 5.7-2.5zM259 536.8l6 0.3 4 1.9 9.1 6 4.2 4 1.3 2 0.1 2 -1.9 2 -4.8 1.8 -8 1.6 -2 0 -4-1.1 -7.7-4.3 -7.7-6 -3.5-4 -0.3-2 2.3-2 11.3-2z"/>
<path fill="#cf7328" d="M517 512.6l4-0.5 22 2.5 6 1 3.8 1.4 10.2 10 5 6 0.6 2 -0.2 2 -1.2 2 -2.7 2 -10.9 4 -26.6 8.2 -6 0.2 -22-1.1 -8.7-1.3 -2.1-2 -1.5-6 -0.1-6 1.3-4 4-4 24.3-16zM257 538.9l6-0.4 4 1.1 8 4.9 4.7 4.5 0.9 2 -0.6 2 -3.6 2 -7.4 1.6 -4-0.3 -4-1.8 -6-3.7 -6.4-5.8 -1-2 1-2 7.6-2z"/>
<path fill="#cc6428" d="M515 515l4-1.6 4 0.1 22 2.7 6 1.8 9.3 9 5 6 0.6 2 -0.3 2 -1.3 2 -3.1 2 -30.2 10 -6 1.3 -28-1.3 -4-0.8 -2-1 -1.3-2.2 -1.3-6 0.1-4 1.4-4 4.1-4 21-14zM257 540.9l4-0.5 4 0.3 4.9 2.3 5.3 4 1.6 2 0.2 2.4 -2 1.8 -6 1.5 -2 0.2 -4-1.2 -4.7-2.7 -4.8-4 -1.4-2 -0.1-2 4.6-2z"/>
<path fill="#c9552a" d="M519 514.8l4 0 19 2.2 7 1.9 2.7 2.1 9.5 10 1.9 4 -0.4 2 -1.5 2 -3.6 2 -28.6 9.3 -6 0.9 -26-1.5 -2.7-0.7 -1.3-0.9 -1.7-3.1 -0.7-4 0-4 1.3-4 1.7-2 19.4-13.3 5.2-2.7zM259 543l6-0.3 4 1.8 3.2 2.5 1.3 2 -0.5 2 -4 1.6 -4-0.1 -6-3.5 -2-2 -0.7-2 2.6-2z"/>
<path fill="#c6452a" d="M517 516.8l4-0.8 4 0.3 16 2 6 1.6 4 3.3 8.7 9.8 0.5 2 -0.5 2 -2.7 2.5 -8.9 3.5 -19 6 -4.1 0.8 -24-0.9 -4-0.8 -2-1 -1.3-2.1 -1.1-6 0.5-4 1-2 4.3-4 18.3-12zM263 545.5l2-0.1 2 0.8 1.2 0.8 0.9 2 -2.1 1 -2-0.3 -1.7-0.7 -1.6-2z"/>
<path fill="#c2302a" d="M517 518.4l2-0.8 4-0.1 16 1.9 6 1.6 4.7 4 6.9 8 0.6 2 -0.7 2 -2.2 2 -10.5 4 -18.8 5.6 -18-0.6 -8-1 -2.7-2 -1.2-4 -0.2-4 1.5-4 4.3-4 15.1-10z"/>
<path fill="#c0222a" d="M521 518.9l16 1.7 6 1.7 3.5 2.7 5.6 6 1.3 2 0.5 2 -0.8 2 -4.1 2.6 -24 7.6 -11.7-0.2 -10.3-0.8 -3.3-1.2 -1.5-2 -0.6-2 -0.3-4 0.4-2 1-2 1.9-2 14.4-9.9 5.2-2.1z"/>
</g></g>
<defs><clipPath id="dl"><rect x="140.3" y="100" width="639.2" height="600"/></clipPath></defs>
<path d="M139.0 121.3H775.0" stroke="#1a1c78" stroke-width="2.6" fill="none"/>
<path d="M773.4 121.0V689.3" stroke="#0c1c50" stroke-opacity="0.8" stroke-width="2.6" fill="none"/>
<path d="M777.2 121.0V690.3" stroke="#dedede" stroke-width="2.2" fill="none"/>
<path d="M144.6 160.3H779.5" stroke="#fff" stroke-width="4.0" stroke-dasharray="21.0 18.0" fill="none" clip-path="url(#dl)"/>
<path d="M96.2 611.4H771.5" stroke="#fff" stroke-width="4.0" stroke-dasharray="21.0 18.0" fill="none" clip-path="url(#dl)"/>
<path d="M139.2 121.0V682.3" stroke="#0c1a3c" stroke-width="3" fill="none"/>
<path d="M138.0 681.5H775.5" stroke="#101058" stroke-width="3" fill="none"/>
<path d="M126.0 121.7H139.5M132.5 149.7H139.5M126.0 177.7H139.5M132.5 205.6H139.5M126.0 233.6H139.5M132.5 261.6H139.5M126.0 289.6H139.5M132.5 317.6H139.5M126.0 345.5H139.5M132.5 373.5H139.5M126.0 401.5H139.5M132.5 429.5H139.5M126.0 457.5H139.5M132.5 485.4H139.5M126.0 513.4H139.5M132.5 541.4H139.5M126.0 569.4H139.5M132.5 597.4H139.5M126.0 625.3H139.5M132.5 653.3H139.5M126.0 681.3H139.5" stroke="#1c1c1c" stroke-width="2.6" fill="none"/>
<path d="M139.5 681.3V692.8M181.8 681.3V688.5M224.1 681.3V692.8M266.4 681.3V688.5M308.7 681.3V692.8M351.0 681.3V688.5M393.3 681.3V692.8M435.6 681.3V688.5M477.9 681.3V692.8M520.2 681.3V688.5M562.5 681.3V692.8M604.8 681.3V688.5M647.1 681.3V692.8M689.4 681.3V688.5M731.7 681.3V692.8M774.0 681.3V688.5" stroke="#1c1c1c" stroke-width="2.6" fill="none"/>
<text class="sans" x="119.0" y="129.5" font-size="24.9" text-anchor="end" fill="#333" stroke="#333" stroke-width="0.8" stroke-linejoin="round">2.0</text>
<text class="sans" x="119.0" y="185.5" font-size="24.9" text-anchor="end" fill="#333" stroke="#333" stroke-width="0.8" stroke-linejoin="round">1.8</text>
<text class="sans" x="119.0" y="241.4" font-size="24.9" text-anchor="end" fill="#333" stroke="#333" stroke-width="0.8" stroke-linejoin="round">1.6</text>
<text class="sans" x="119.0" y="297.4" font-size="24.9" text-anchor="end" fill="#333" stroke="#333" stroke-width="0.8" stroke-linejoin="round">1.4</text>
<text class="sans" x="119.0" y="353.3" font-size="24.9" text-anchor="end" fill="#333" stroke="#333" stroke-width="0.8" stroke-linejoin="round">1.2</text>
<text class="sans" x="119.0" y="409.3" font-size="24.9" text-anchor="end" fill="#333" stroke="#333" stroke-width="0.8" stroke-linejoin="round">1.0</text>
<text class="sans" x="119.0" y="465.3" font-size="24.9" text-anchor="end" fill="#333" stroke="#333" stroke-width="0.8" stroke-linejoin="round">0.8</text>
<text class="sans" x="119.0" y="521.2" font-size="24.9" text-anchor="end" fill="#333" stroke="#333" stroke-width="0.8" stroke-linejoin="round">0.6</text>
<text class="sans" x="119.0" y="577.2" font-size="24.9" text-anchor="end" fill="#333" stroke="#333" stroke-width="0.8" stroke-linejoin="round">0.4</text>
<text class="sans" x="119.0" y="633.1" font-size="24.9" text-anchor="end" fill="#333" stroke="#333" stroke-width="0.8" stroke-linejoin="round">0.2</text>
<text class="sans" x="119.0" y="689.1" font-size="24.9" text-anchor="end" fill="#333" stroke="#333" stroke-width="0.8" stroke-linejoin="round">0.0</text>
<text class="sans" x="224.1" y="717.9" font-size="24.8" text-anchor="middle" fill="#333" stroke="#333" stroke-width="0.8" stroke-linejoin="round">10</text>
<text class="sans" x="308.7" y="717.9" font-size="24.8" text-anchor="middle" fill="#333" stroke="#333" stroke-width="0.8" stroke-linejoin="round">20</text>
<text class="sans" x="393.3" y="717.9" font-size="24.8" text-anchor="middle" fill="#333" stroke="#333" stroke-width="0.8" stroke-linejoin="round">30</text>
<text class="sans" x="477.9" y="717.9" font-size="24.8" text-anchor="middle" fill="#333" stroke="#333" stroke-width="0.8" stroke-linejoin="round">40</text>
<text class="sans" x="562.5" y="717.9" font-size="24.8" text-anchor="middle" fill="#333" stroke="#333" stroke-width="0.8" stroke-linejoin="round">50</text>
<text class="sans" x="647.1" y="717.9" font-size="24.8" text-anchor="middle" fill="#333" stroke="#333" stroke-width="0.8" stroke-linejoin="round">60</text>
<text class="sans" x="731.7" y="717.9" font-size="24.8" text-anchor="middle" fill="#333" stroke="#333" stroke-width="0.8" stroke-linejoin="round">70</text>
<text class="sans" x="145.5" y="718.8" font-size="26.5" text-anchor="end" fill="#333" stroke="#333" stroke-width="0.8" stroke-linejoin="round" letter-spacing="1.2">T+0</text>
<text class="sans" x="456.5" y="764.0" font-size="31.5" text-anchor="middle" fill="#333" stroke="#333" stroke-width="0.8" stroke-linejoin="round">Time (ns)</text>
<text class="sans" transform="translate(62.5 400) rotate(-90)" font-size="29.5" text-anchor="middle" fill="#333" stroke="#333" stroke-width="0.8">Position (mm)</text>
<text class="sans" x="2.8" y="101.8" font-size="31.0" text-anchor="start" fill="#333" stroke="#333" stroke-width="0.8" stroke-linejoin="round" textLength="282.5" lengthAdjust="spacingAndGlyphs">Grounded Electrode</text>
<text class="sans" x="2.6" y="745.2" font-size="30.5" text-anchor="start" fill="#333" stroke="#333" stroke-width="0.8" stroke-linejoin="round" textLength="264.5" lengthAdjust="spacingAndGlyphs">Powered Electrode</text>
<text class="sans" x="707.0" y="101.8" font-size="31.8" text-anchor="start" fill="#333" stroke="#333" stroke-width="0.8" stroke-linejoin="round">Intensity (a.u.)</text>
<path d="M48.5 105V121.5H66" stroke="#555" stroke-width="1.8" fill="none"/><path d="M80.5 121.5l-15.5 -4v8z" fill="#222"/>
<path d="M50 718V681.3H66" stroke="#555" stroke-width="1.8" fill="none"/><path d="M80 681.3l-15.5 -4.2v8.4z" fill="#222"/>
<text class="serif" x="59" y="37.5" font-size="46" font-weight="bold" fill="#111" stroke="#111" stroke-width="0.5">(a)</text>
<g shape-rendering="crispEdges"><rect x="781.4" y="121.4" width="50.8" height="10.8" fill="#fff"/><rect x="781.4" y="665.60" width="50.8" height="4.80" fill="#4652a8"/><rect x="781.4" y="661.40" width="50.8" height="4.80" fill="#4753a9"/><rect x="781.4" y="657.20" width="50.8" height="4.80" fill="#4753a9"/><rect x="781.4" y="653.00" width="50.8" height="4.80" fill="#4753a9"/><rect x="781.4" y="648.80" width="50.8" height="4.80" fill="#4854aa"/><rect x="781.4" y="644.60" width="50.8" height="4.80" fill="#4854aa"/><rect x="781.4" y="640.40" width="50.8" height="4.80" fill="#4955ab"/><rect x="781.4" y="636.20" width="50.8" height="4.80" fill="#4957ac"/><rect x="781.4" y="632.00" width="50.8" height="4.80" fill="#4a58ad"/><rect x="781.4" y="627.80" width="50.8" height="4.80" fill="#4b5aae"/><rect x="781.4" y="623.60" width="50.8" height="4.80" fill="#4c5bb0"/><rect x="781.4" y="619.40" width="50.8" height="4.80" fill="#4d5eb1"/><rect x="781.4" y="615.20" width="50.8" height="4.80" fill="#4f61b3"/><rect x="781.4" y="611.00" width="50.8" height="4.80" fill="#5064b5"/><rect x="781.4" y="606.80" width="50.8" height="4.80" fill="#5367b7"/><rect x="781.4" y="602.60" width="50.8" height="4.80" fill="#556ab9"/><rect x="781.4" y="598.40" width="50.8" height="4.80" fill="#5970bd"/><rect x="781.4" y="594.20" width="50.8" height="4.80" fill="#5d76c1"/><rect x="781.4" y="590.00" width="50.8" height="4.80" fill="#627dc6"/><rect x="781.4" y="585.80" width="50.8" height="4.80" fill="#6685ca"/><rect x="781.4" y="581.60" width="50.8" height="4.80" fill="#6a8bce"/><rect x="781.4" y="577.40" width="50.8" height="4.80" fill="#6d90d2"/><rect x="781.4" y="573.20" width="50.8" height="4.80" fill="#7095d6"/><rect x="781.4" y="569.00" width="50.8" height="4.80" fill="#739bd9"/><rect x="781.4" y="564.80" width="50.8" height="4.80" fill="#76a0dc"/><rect x="781.4" y="560.60" width="50.8" height="4.80" fill="#79a5df"/><rect x="781.4" y="556.40" width="50.8" height="4.80" fill="#8ccef4"/><rect x="781.4" y="552.20" width="50.8" height="4.80" fill="#8fd0f4"/><rect x="781.4" y="548.00" width="50.8" height="4.80" fill="#92d2f4"/><rect x="781.4" y="543.80" width="50.8" height="4.80" fill="#9ad5f1"/><rect x="781.4" y="539.60" width="50.8" height="4.80" fill="#a1d9ef"/><rect x="781.4" y="535.40" width="50.8" height="4.80" fill="#a6daeb"/><rect x="781.4" y="531.20" width="50.8" height="4.80" fill="#aadbe6"/><rect x="781.4" y="527.00" width="50.8" height="4.80" fill="#addce1"/><rect x="781.4" y="522.80" width="50.8" height="4.80" fill="#addcdc"/><rect x="781.4" y="518.60" width="50.8" height="4.80" fill="#acdcd7"/><rect x="781.4" y="514.40" width="50.8" height="4.80" fill="#aadcd2"/><rect x="781.4" y="510.20" width="50.8" height="4.80" fill="#abdbca"/><rect x="781.4" y="506.00" width="50.8" height="4.80" fill="#addbc0"/><rect x="781.4" y="501.80" width="50.8" height="4.80" fill="#aedab8"/><rect x="781.4" y="497.60" width="50.8" height="4.80" fill="#aed9b1"/><rect x="781.4" y="493.40" width="50.8" height="4.80" fill="#aed9ab"/><rect x="781.4" y="489.20" width="50.8" height="4.80" fill="#aed8a4"/><rect x="781.4" y="485.00" width="50.8" height="4.80" fill="#aed79e"/><rect x="781.4" y="480.80" width="50.8" height="4.80" fill="#aed798"/><rect x="781.4" y="476.60" width="50.8" height="4.80" fill="#aed692"/><rect x="781.4" y="472.40" width="50.8" height="4.80" fill="#aed68d"/><rect x="781.4" y="468.20" width="50.8" height="4.80" fill="#aed588"/><rect x="781.4" y="464.00" width="50.8" height="4.80" fill="#aed483"/><rect x="781.4" y="459.80" width="50.8" height="4.80" fill="#aed47d"/><rect x="781.4" y="455.60" width="50.8" height="4.80" fill="#aed375"/><rect x="781.4" y="451.40" width="50.8" height="4.80" fill="#aed26d"/><rect x="781.4" y="447.20" width="50.8" height="4.80" fill="#aed266"/><rect x="781.4" y="443.00" width="50.8" height="4.80" fill="#aed161"/><rect x="781.4" y="438.80" width="50.8" height="4.80" fill="#aed05b"/><rect x="781.4" y="434.60" width="50.8" height="4.80" fill="#aed055"/><rect x="781.4" y="430.40" width="50.8" height="4.80" fill="#aed04b"/><rect x="781.4" y="426.20" width="50.8" height="4.80" fill="#aed048"/><rect x="781.4" y="422.00" width="50.8" height="4.80" fill="#aed048"/><rect x="781.4" y="417.80" width="50.8" height="4.80" fill="#aed048"/><rect x="781.4" y="413.60" width="50.8" height="4.80" fill="#aed048"/><rect x="781.4" y="409.40" width="50.8" height="4.80" fill="#aed048"/><rect x="781.4" y="405.20" width="50.8" height="4.80" fill="#aed048"/><rect x="781.4" y="401.00" width="50.8" height="4.80" fill="#aed048"/><rect x="781.4" y="396.80" width="50.8" height="4.80" fill="#aed048"/><rect x="781.4" y="392.60" width="50.8" height="4.80" fill="#aed048"/><rect x="781.4" y="388.40" width="50.8" height="4.80" fill="#aed048"/><rect x="781.4" y="384.20" width="50.8" height="4.80" fill="#aed048"/><rect x="781.4" y="380.00" width="50.8" height="4.80" fill="#aed048"/><rect x="781.4" y="375.80" width="50.8" height="4.80" fill="#afd047"/><rect x="781.4" y="371.60" width="50.8" height="4.80" fill="#afd147"/><rect x="781.4" y="367.40" width="50.8" height="4.80" fill="#b0d146"/><rect x="781.4" y="363.20" width="50.8" height="4.80" fill="#b0d146"/><rect x="781.4" y="359.00" width="50.8" height="4.80" fill="#b1d145"/><rect x="781.4" y="354.80" width="50.8" height="4.80" fill="#b1d245"/><rect x="781.4" y="350.60" width="50.8" height="4.80" fill="#b2d244"/><rect x="781.4" y="346.40" width="50.8" height="4.80" fill="#b3d344"/><rect x="781.4" y="342.20" width="50.8" height="4.80" fill="#b6d444"/><rect x="781.4" y="338.00" width="50.8" height="4.80" fill="#bad544"/><rect x="781.4" y="333.80" width="50.8" height="4.80" fill="#bdd644"/><rect x="781.4" y="329.60" width="50.8" height="4.80" fill="#c0d743"/><rect x="781.4" y="325.40" width="50.8" height="4.80" fill="#c2d842"/><rect x="781.4" y="321.20" width="50.8" height="4.80" fill="#c6d942"/><rect x="781.4" y="317.00" width="50.8" height="4.80" fill="#cada41"/><rect x="781.4" y="312.80" width="50.8" height="4.80" fill="#cedb40"/><rect x="781.4" y="308.60" width="50.8" height="4.80" fill="#d2dd40"/><rect x="781.4" y="304.40" width="50.8" height="4.80" fill="#d6de40"/><rect x="781.4" y="300.20" width="50.8" height="4.80" fill="#dadf40"/><rect x="781.4" y="296.00" width="50.8" height="4.80" fill="#dee040"/><rect x="781.4" y="291.80" width="50.8" height="4.80" fill="#e2e242"/><rect x="781.4" y="287.60" width="50.8" height="4.80" fill="#e6e343"/><rect x="781.4" y="283.40" width="50.8" height="4.80" fill="#ebe444"/><rect x="781.4" y="279.20" width="50.8" height="4.80" fill="#efe646"/><rect x="781.4" y="275.00" width="50.8" height="4.80" fill="#f4e848"/><rect x="781.4" y="270.80" width="50.8" height="4.80" fill="#f4e848"/><rect x="781.4" y="266.60" width="50.8" height="4.80" fill="#f4e848"/><rect x="781.4" y="262.40" width="50.8" height="4.80" fill="#f4e848"/><rect x="781.4" y="258.20" width="50.8" height="4.80" fill="#f4e848"/><rect x="781.4" y="254.00" width="50.8" height="4.80" fill="#f4e848"/><rect x="781.4" y="249.80" width="50.8" height="4.80" fill="#e8c43c"/><rect x="781.4" y="245.60" width="50.8" height="4.80" fill="#e7c23b"/><rect x="781.4" y="241.40" width="50.8" height="4.80" fill="#e6bb37"/><rect x="781.4" y="237.20" width="50.8" height="4.80" fill="#e4b434"/><rect x="781.4" y="233.00" width="50.8" height="4.80" fill="#e2af32"/><rect x="781.4" y="228.80" width="50.8" height="4.80" fill="#e1aa31"/><rect x="781.4" y="224.60" width="50.8" height="4.80" fill="#dfa52f"/><rect x="781.4" y="220.40" width="50.8" height="4.80" fill="#dea12e"/><rect x="781.4" y="216.20" width="50.8" height="4.80" fill="#dc9c2c"/><rect x="781.4" y="212.00" width="50.8" height="4.80" fill="#da972b"/><rect x="781.4" y="207.80" width="50.8" height="4.80" fill="#d8912b"/><rect x="781.4" y="203.60" width="50.8" height="4.80" fill="#d68b2a"/><rect x="781.4" y="199.40" width="50.8" height="4.80" fill="#d48429"/><rect x="781.4" y="195.20" width="50.8" height="4.80" fill="#d17d28"/><rect x="781.4" y="191.00" width="50.8" height="4.80" fill="#cf7528"/><rect x="781.4" y="186.80" width="50.8" height="4.80" fill="#ce6e28"/><rect x="781.4" y="182.60" width="50.8" height="4.80" fill="#cd6728"/><rect x="781.4" y="178.40" width="50.8" height="4.80" fill="#cb5f28"/><rect x="781.4" y="174.20" width="50.8" height="4.80" fill="#ca5829"/><rect x="781.4" y="170.00" width="50.8" height="4.80" fill="#c8502a"/><rect x="781.4" y="165.80" width="50.8" height="4.80" fill="#c7482a"/><rect x="781.4" y="161.60" width="50.8" height="4.80" fill="#c5412a"/><rect x="781.4" y="157.40" width="50.8" height="4.80" fill="#c4372a"/><rect x="781.4" y="153.20" width="50.8" height="4.80" fill="#c0242a"/><rect x="781.4" y="149.00" width="50.8" height="4.80" fill="#c0222a"/><rect x="781.4" y="144.80" width="50.8" height="4.80" fill="#c0222a"/><rect x="781.4" y="140.60" width="50.8" height="4.80" fill="#c0222a"/><rect x="781.4" y="136.40" width="50.8" height="4.80" fill="#c0222a"/><rect x="781.4" y="132.20" width="50.8" height="4.80" fill="#c0222a"/><rect x="781.4" y="669.8" width="50.8" height="12.4" fill="#000"/></g>
<rect x="781.4" y="121.4" width="50.8" height="560.8" fill="none" stroke="#484848" stroke-width="2.3"/>
<path d="M832.7 131.8h12.5" stroke="#5a5a5a" stroke-width="3.2" fill="none"/>
<text class="sans" x="851.5" y="139.0" font-size="17.6" font-weight="bold" letter-spacing="0.8" fill="#333">6.38x10<tspan dy="-8" dx="1.2" font-size="10.5">6</tspan></text>
<path d="M832.7 199.0h12.5" stroke="#5a5a5a" stroke-width="3.2" fill="none"/>
<text class="sans" x="851.5" y="206.2" font-size="17.6" font-weight="bold" letter-spacing="0.8" fill="#333">6.21x10<tspan dy="-8" dx="1.2" font-size="10.5">6</tspan></text>
<path d="M832.7 266.2h12.5" stroke="#5a5a5a" stroke-width="3.2" fill="none"/>
<text class="sans" x="851.5" y="273.4" font-size="17.6" font-weight="bold" letter-spacing="0.8" fill="#333">6.04x10<tspan dy="-8" dx="1.2" font-size="10.5">6</tspan></text>
<path d="M832.7 333.4h12.5" stroke="#5a5a5a" stroke-width="3.2" fill="none"/>
<text class="sans" x="851.5" y="340.6" font-size="17.6" font-weight="bold" letter-spacing="0.8" fill="#333">5.88x10<tspan dy="-8" dx="1.2" font-size="10.5">6</tspan></text>
<path d="M832.7 400.6h12.5" stroke="#5a5a5a" stroke-width="3.2" fill="none"/>
<text class="sans" x="851.5" y="407.8" font-size="17.6" font-weight="bold" letter-spacing="0.8" fill="#333">5.71x10<tspan dy="-8" dx="1.2" font-size="10.5">6</tspan></text>
<path d="M832.7 467.8h12.5" stroke="#5a5a5a" stroke-width="3.2" fill="none"/>
<text class="sans" x="851.5" y="475.0" font-size="17.6" font-weight="bold" letter-spacing="0.8" fill="#333">5.54x10<tspan dy="-8" dx="1.2" font-size="10.5">6</tspan></text>
<path d="M832.7 535.0h12.5" stroke="#5a5a5a" stroke-width="3.2" fill="none"/>
<text class="sans" x="851.5" y="542.2" font-size="17.6" font-weight="bold" letter-spacing="0.8" fill="#333">5.38x10<tspan dy="-8" dx="1.2" font-size="10.5">6</tspan></text>
<path d="M832.7 602.2h12.5" stroke="#5a5a5a" stroke-width="3.2" fill="none"/>
<text class="sans" x="851.5" y="609.4" font-size="17.6" font-weight="bold" letter-spacing="0.8" fill="#333">5.21x10<tspan dy="-8" dx="1.2" font-size="10.5">6</tspan></text>
<path d="M832.7 669.4h12.5" stroke="#5a5a5a" stroke-width="3.2" fill="none"/>
<text class="sans" x="851.5" y="676.6" font-size="17.6" font-weight="bold" letter-spacing="0.8" fill="#333">5.04x10<tspan dy="-8" dx="1.2" font-size="10.5">6</tspan></text>
</g>
<g id="panel-b">
<text class="serif" x="1406.2" y="103" font-size="44.8" text-anchor="middle" fill="#222" stroke="#222" stroke-width="0.6">Temperature (V)</text>
<text class="serif" x="1029.5" y="54" font-size="47" font-weight="bold" fill="#111" stroke="#111" stroke-width="0.5">(b)</text>
<text class="serif" x="1407" y="760" font-size="42" font-weight="bold" text-anchor="middle" fill="#222" stroke="#222" stroke-width="0.3">x (m)</text>
<path d="M1006.3 125.9V691.1H1806.8" fill="none" stroke="#b4b4b4" stroke-width="3"/>
<path d="M1004.8 127.4H1805.4V692.6" fill="none" stroke="#4a4a4a" stroke-width="3.2"/>
<path d="M1047.0 127.1v6M1047.0 691.1v-6M1087.0 127.1v6M1087.0 691.1v-6M1126.9 127.1v6M1126.9 691.1v-6M1166.8 127.1v15M1166.8 691.1v-15M1206.7 127.1v6M1206.7 691.1v-6M1246.7 127.1v6M1246.7 691.1v-6M1286.6 127.1v6M1286.6 691.1v-6M1326.5 127.1v15M1326.5 691.1v-15M1366.4 127.1v6M1366.4 691.1v-6M1406.3 127.1v6M1406.3 691.1v-6M1446.3 127.1v6M1446.3 691.1v-6M1486.2 127.1v15M1486.2 691.1v-15M1526.1 127.1v6M1526.1 691.1v-6M1566.0 127.1v6M1566.0 691.1v-6M1606.0 127.1v6M1606.0 691.1v-6M1645.9 127.1v15M1645.9 691.1v-15M1685.8 127.1v6M1685.8 691.1v-6M1725.8 127.1v6M1725.8 691.1v-6M1765.7 127.1v6M1765.7 691.1v-6" stroke="#1a1a1a" stroke-width="2.3" fill="none"/>
<path d="M1007.1 156.5h9M1805.6 156.5h-9M1007.1 318.5h9M1805.6 318.5h-9M1007.1 290.0h9M1805.6 290.0h-9M1007.1 269.8h9M1805.6 269.8h-9M1007.1 254.1h9M1805.6 254.1h-9M1007.1 241.2h9M1805.6 241.2h-9M1007.1 230.4h9M1805.6 230.4h-9M1007.1 221.0h9M1805.6 221.0h-9M1007.1 212.7h9M1805.6 212.7h-9M1007.1 480.5h9M1805.6 480.5h-9M1007.1 452.0h9M1805.6 452.0h-9M1007.1 431.8h9M1805.6 431.8h-9M1007.1 416.1h9M1805.6 416.1h-9M1007.1 403.2h9M1805.6 403.2h-9M1007.1 392.4h9M1805.6 392.4h-9M1007.1 383.0h9M1805.6 383.0h-9M1007.1 374.7h9M1805.6 374.7h-9M1007.1 642.5h9M1805.6 642.5h-9M1007.1 614.0h9M1805.6 614.0h-9M1007.1 593.8h9M1805.6 593.8h-9M1007.1 578.1h9M1805.6 578.1h-9M1007.1 565.2h9M1805.6 565.2h-9M1007.1 554.4h9M1805.6 554.4h-9M1007.1 545.0h9M1805.6 545.0h-9M1007.1 536.7h9M1805.6 536.7h-9" stroke="#333" stroke-width="2" fill="none"/>
<path d="M1007.1 205.3h17M1805.6 205.3h-17M1007.1 367.3h17M1805.6 367.3h-17M1007.1 529.3h17M1805.6 529.3h-17" stroke="#b4b4b4" stroke-width="4" fill="none"/>
<defs><clipPath id="one"><rect x="992.6" y="100" width="3.9" height="640"/></clipPath></defs>
<text class="sans" x="1002.8" y="216.7" font-size="32" text-anchor="end" fill="#5a5a56" stroke="#5a5a56" stroke-width="0.9" clip-path="url(#one)">1</text>
<text class="sans" x="1002.8" y="378.7" font-size="32" text-anchor="end" fill="#5a5a56" stroke="#5a5a56" stroke-width="0.9" clip-path="url(#one)">1</text>
<text class="sans" x="1002.8" y="540.7" font-size="32" text-anchor="end" fill="#5a5a56" stroke="#5a5a56" stroke-width="0.9" clip-path="url(#one)">1</text>
<text class="sans" x="1002.8" y="702.7" font-size="32" text-anchor="end" fill="#5a5a56" stroke="#5a5a56" stroke-width="0.9" clip-path="url(#one)">1</text>
<text class="serif" x="1008.1" y="721.6" font-size="32.4" text-anchor="middle" fill="#333" stroke="#333" stroke-width="0.6">0</text>
<text class="serif" x="1166.8" y="721.6" font-size="32.4" text-anchor="middle" fill="#333" stroke="#333" stroke-width="0.6">0.0002</text>
<text class="serif" x="1326.5" y="721.6" font-size="32.4" text-anchor="middle" fill="#333" stroke="#333" stroke-width="0.6">0.0004</text>
<text class="serif" x="1486.2" y="721.6" font-size="32.4" text-anchor="middle" fill="#333" stroke="#333" stroke-width="0.6">0.0006</text>
<text class="serif" x="1645.9" y="721.6" font-size="32.4" text-anchor="middle" fill="#333" stroke="#333" stroke-width="0.6">0.0008</text>
<text class="serif" x="1805.6" y="721.6" font-size="32.4" text-anchor="middle" fill="#333" stroke="#333" stroke-width="0.6">0.001</text>
<path d="M1132.8 127.7V691.1" stroke="#111" stroke-width="3.3" stroke-dasharray="4.0 5.7" fill="none"/>
<path d="M1678.4 127.7V691.1" stroke="#111" stroke-width="3.3" stroke-dasharray="4.0 5.7" fill="none"/>
<path d="M1011.0 138.0h0M1020.5 145.2h0M1029.0 156.8h0M1038.6 167.6h0M1050.5 173.5h0M1062.6 181.3h0M1076.0 187.2h0M1087.6 195.0h0M1099.2 202.5h0M1109.8 212.3h0M1118.6 223.9h0M1125.8 236.0h0M1134.0 247.6h0M1140.0 261.8h0M1146.0 274.7h0M1153.0 287.6h0M1160.6 298.7h0M1168.5 311.3h0M1179.5 321.7h0M1192.0 325.7h0M1205.7 323.4h0M1218.0 319.0h0M1230.5 313.0h0M1243.3 306.2h0M1255.0 298.9h0M1267.4 291.1h0M1280.2 285.4h0M1294.6 281.1h0M1306.8 275.3h0M1320.6 270.8h0M1334.2 267.5h0M1347.4 261.9h0M1361.9 260.5h0M1374.9 257.8h0M1388.9 256.1h0M1402.7 255.3h0M1416.8 256.8h0M1430.8 257.0h0M1445.0 260.3h0M1459.0 263.0h0M1472.3 266.5h0M1485.9 270.8h0M1499.7 274.7h0M1512.1 281.9h0M1524.5 288.3h0M1537.0 295.4h0M1548.9 302.1h0M1561.0 309.8h0M1574.1 315.7h0M1587.3 320.3h0M1600.5 326.5h0M1614.9 328.1h0M1626.8 323.4h0M1638.4 314.5h0M1647.2 303.2h0M1655.0 291.2h0M1661.2 277.8h0M1667.8 265.4h0M1673.7 252.2h0M1679.9 239.4h0M1688.4 227.0h0M1697.2 216.1h0M1706.7 205.3h0M1717.8 196.3h0M1730.0 189.0h0M1742.9 182.1h0M1755.8 176.1h0M1768.7 171.5h0M1777.7 161.4h0M1788.0 151.1h0M1797.3 140.0h0M1009.7 153.4h0M1008.4 167.1h0M1007.9 181.3h0M1007.4 195.5h0M1803.0 151.6h0M1803.8 164.5h0M1804.3 178.7h0M1804.8 194.2h0" stroke="#111" stroke-width="4.7" stroke-linecap="square" fill="none"/>
<path d="M1008.4 252.6 L1011.4 253.3 L1014.4 254.4 L1017.4 255.7 L1020.4 257.2 L1023.4 259.3 L1026.4 261.9 L1029.4 264.8 L1032.4 267.6 L1035.4 270.2 L1038.4 272.6 L1041.4 275.0 L1044.4 277.7 L1047.4 280.9 L1050.4 285.0 L1053.4 289.9 L1056.4 294.6 L1059.4 298.7 L1062.4 302.6 L1065.4 306.6 L1068.4 311.3 L1071.4 316.8 L1074.4 322.7 L1077.4 329.1 L1080.4 335.6 L1083.4 342.4 L1086.4 349.8 L1089.4 357.2 L1092.4 364.5 L1095.4 371.5 L1098.4 378.4 L1101.4 385.5 L1104.4 393.3 L1107.4 401.5 L1110.4 410.4 L1113.4 420.8 L1116.4 431.7 L1119.4 440.5 L1122.4 448.4 L1125.4 454.3 L1128.4 457.7 L1131.4 459.6 L1134.0 460.5 M1804.3 252.6 L1801.3 253.3 L1798.3 254.4 L1795.3 255.7 L1792.3 257.2 L1789.3 259.3 L1786.3 261.9 L1783.3 264.8 L1780.3 267.6 L1777.3 270.2 L1774.3 272.6 L1771.3 275.0 L1768.3 277.7 L1765.3 280.9 L1762.3 285.0 L1759.3 289.9 L1756.3 294.6 L1753.3 298.7 L1750.3 302.6 L1747.3 306.6 L1744.3 311.3 L1741.3 316.8 L1738.3 322.7 L1735.3 329.1 L1732.3 335.6 L1729.3 342.4 L1726.3 349.8 L1723.3 357.2 L1720.3 364.5 L1717.3 371.5 L1714.3 378.4 L1711.3 385.5 L1708.3 393.3 L1705.3 401.5 L1702.3 410.4 L1699.3 420.8 L1696.3 431.7 L1693.3 440.5 L1690.3 448.4 L1687.3 454.3 L1684.3 457.7 L1681.3 459.6 L1678.7 460.5" stroke="#3c3c3c" stroke-width="1.9" fill="none" stroke-linejoin="round"/>
<path d="M1008.5 690.0 L1008.8 600.0 L1009.2 540.0 L1010.0 500.0 L1011.5 478.0 L1014.2 467.6 L1023.0 463.0 L1029.7 472.0 L1038.7 465.8 L1046.0 468.0 L1052.0 463.5 L1059.0 467.0 L1066.0 468.5 L1073.0 464.0 L1082.6 463.0 L1090.0 464.5 L1098.0 468.0 L1105.9 467.6 L1112.0 463.0 L1118.8 463.0 L1126.5 462.0 L1133.0 462.0 L1135.0 470.1 L1136.3 461.5 L1137.6 461.0 L1138.9 461.8 L1140.2 459.4 L1141.5 461.3 L1142.8 464.1 L1144.1 454.9 L1145.4 464.1 L1146.7 457.8 L1148.0 461.7 L1149.3 460.8 L1150.6 462.7 L1151.9 468.2 L1153.2 461.1 L1154.5 460.8 L1155.8 463.2 L1157.1 468.3 L1158.4 466.1 L1159.7 462.0 L1161.0 461.9 L1162.3 456.2 L1163.6 474.2 L1164.9 454.4 L1166.2 464.2 L1167.5 463.4 L1168.8 465.8 L1170.1 455.1 L1171.4 464.5 L1172.7 465.1 L1174.0 459.6 L1175.3 461.3 L1176.6 462.6 L1177.9 465.7 L1179.2 466.2 L1180.5 463.1 L1181.8 473.5 L1183.1 469.2 L1184.4 464.8 L1185.7 462.5 L1187.0 462.8 L1188.3 462.0 L1189.6 469.1 L1190.9 461.5 L1192.2 461.8 L1193.5 461.7 L1194.8 458.7 L1196.1 461.9 L1197.4 464.6 L1198.7 460.4 L1200.0 468.5 L1201.3 471.3 L1202.6 464.5 L1203.9 459.9 L1205.2 464.2 L1206.5 466.2 L1207.8 461.4 L1209.1 466.8 L1210.4 463.6 L1211.7 465.1 L1213.0 461.9 L1214.3 459.6 L1215.6 458.2 L1216.9 459.6 L1218.2 462.2 L1219.5 462.1 L1220.8 475.2 L1222.1 456.0 L1223.4 458.9 L1224.7 461.2 L1226.0 462.3 L1227.3 460.4 L1228.6 454.8 L1229.9 458.4 L1231.2 463.6 L1232.5 474.5 L1233.8 460.8 L1235.1 460.6 L1236.4 464.5 L1237.7 457.3 L1239.0 474.9 L1240.3 469.6 L1241.6 463.7 L1242.9 464.5 L1244.2 459.8 L1245.5 461.1 L1246.8 474.8 L1248.1 475.4 L1249.4 462.5 L1250.7 463.8 L1252.0 463.9 L1253.3 454.3 L1254.6 459.3 L1255.9 461.7 L1257.2 465.4 L1258.5 452.6 L1259.8 468.8 L1261.1 461.5 L1262.4 457.5 L1263.7 461.6 L1265.0 458.7 L1266.3 471.9 L1267.6 464.3 L1268.9 464.3 L1270.2 455.6 L1271.5 453.5 L1272.8 480.0 L1274.1 463.9 L1275.4 458.6 L1276.7 459.5 L1278.0 463.2 L1279.3 466.0 L1280.6 459.0 L1281.9 458.1 L1283.2 468.7 L1284.5 460.0 L1285.8 467.2 L1287.1 453.5 L1288.4 463.4 L1289.7 453.7 L1291.0 465.1 L1292.3 459.8 L1293.6 457.4 L1294.9 452.8 L1296.2 481.5 L1297.5 461.9 L1298.8 458.2 L1300.1 460.1 L1301.4 466.8 L1302.7 463.1 L1304.0 470.7 L1305.3 468.3 L1306.6 457.1 L1307.9 462.1 L1309.2 460.8 L1310.5 450.5 L1311.8 469.5 L1313.1 461.7 L1314.4 461.3 L1315.7 460.3 L1317.0 469.8 L1318.3 462.7 L1319.6 462.8 L1320.9 461.9 L1322.2 456.8 L1323.5 467.8 L1324.8 448.5 L1326.1 469.3 L1327.4 465.6 L1328.7 448.3 L1330.0 455.1 L1331.3 448.3 L1332.6 448.7 L1333.9 459.8 L1335.2 451.4 L1336.5 464.0 L1337.8 468.3 L1339.1 462.0 L1340.4 465.3 L1341.7 453.6 L1343.0 456.0 L1344.3 460.9 L1345.6 458.3 L1346.9 462.2 L1348.2 463.3 L1349.5 465.6 L1350.8 475.8 L1352.1 474.8 L1353.4 458.2 L1354.7 465.5 L1356.0 467.1 L1357.3 463.9 L1358.6 460.0 L1359.9 463.1 L1361.2 469.1 L1362.5 461.4 L1363.8 459.2 L1365.1 456.3 L1366.4 470.7 L1367.7 448.3 L1369.0 461.7 L1370.3 453.9 L1371.6 477.7 L1372.9 460.7 L1374.2 460.4 L1375.5 461.2 L1376.8 447.2 L1378.1 457.3 L1379.4 461.5 L1380.7 467.2 L1382.0 477.8 L1383.3 461.1 L1384.6 464.2 L1385.9 485.1 L1387.2 465.5 L1388.5 463.5 L1389.8 450.1 L1391.1 454.1 L1392.4 462.8 L1393.7 464.0 L1395.0 459.7 L1396.3 476.7 L1397.6 451.5 L1398.9 474.5 L1400.2 460.0 L1401.5 465.2 L1402.8 474.4 L1404.1 458.0 L1405.4 457.2 L1406.7 461.9 L1408.0 475.5 L1409.3 459.6 L1410.6 465.1 L1411.9 455.4 L1413.2 467.9 L1414.5 471.2 L1415.8 459.0 L1417.1 461.6 L1418.4 468.4 L1419.7 469.2 L1421.0 459.1 L1422.3 459.7 L1423.6 483.0 L1424.9 462.6 L1426.2 458.6 L1427.5 467.0 L1428.8 461.3 L1430.1 465.1 L1431.4 447.1 L1432.7 457.8 L1434.0 457.8 L1435.3 481.9 L1436.6 473.2 L1437.9 464.2 L1439.2 449.1 L1440.5 456.2 L1441.8 465.8 L1443.1 464.3 L1444.4 470.3 L1445.7 461.5 L1447.0 467.1 L1448.3 469.3 L1449.6 454.1 L1450.9 462.2 L1452.2 460.9 L1453.5 460.4 L1454.8 462.8 L1456.1 471.1 L1457.4 449.2 L1458.7 451.7 L1460.0 466.3 L1461.3 455.5 L1462.6 482.0 L1463.9 456.1 L1465.2 460.0 L1466.5 454.0 L1467.8 472.8 L1469.1 458.7 L1470.4 468.9 L1471.7 457.6 L1473.0 471.9 L1474.3 456.6 L1475.6 471.6 L1476.9 459.2 L1478.2 460.6 L1479.5 463.7 L1480.8 465.8 L1482.1 463.8 L1483.4 458.6 L1484.7 456.6 L1486.0 456.1 L1487.3 454.0 L1488.6 463.9 L1489.9 466.0 L1491.2 456.8 L1492.5 455.6 L1493.8 450.7 L1495.1 458.4 L1496.4 460.3 L1497.7 461.8 L1499.0 464.7 L1500.3 458.3 L1501.6 464.5 L1502.9 464.0 L1504.2 456.7 L1505.5 449.1 L1506.8 466.4 L1508.1 457.2 L1509.4 460.1 L1510.7 464.5 L1512.0 461.1 L1513.3 466.2 L1514.6 472.1 L1515.9 463.6 L1517.2 464.2 L1518.5 460.2 L1519.8 454.9 L1521.1 465.5 L1522.4 473.9 L1523.7 461.9 L1525.0 461.6 L1526.3 463.5 L1527.6 467.9 L1528.9 461.4 L1530.2 465.1 L1531.5 458.7 L1532.8 465.7 L1534.1 464.1 L1535.4 459.4 L1536.7 465.9 L1538.0 454.5 L1539.3 469.4 L1540.6 459.8 L1541.9 455.7 L1543.2 461.5 L1544.5 461.2 L1545.8 454.4 L1547.1 459.7 L1548.4 455.7 L1549.7 477.2 L1551.0 458.3 L1552.3 459.2 L1553.6 459.7 L1554.9 461.2 L1556.2 460.4 L1557.5 476.7 L1558.8 455.6 L1560.1 473.3 L1561.4 463.0 L1562.7 461.9 L1564.0 461.6 L1565.3 455.6 L1566.6 465.0 L1567.9 471.8 L1569.2 465.1 L1570.5 460.6 L1571.8 455.9 L1573.1 468.3 L1574.4 464.5 L1575.7 461.3 L1577.0 463.5 L1578.3 471.6 L1579.6 464.4 L1580.9 460.7 L1582.2 464.4 L1583.5 456.7 L1584.8 460.5 L1586.1 461.1 L1587.4 463.1 L1588.7 460.7 L1590.0 454.6 L1591.3 457.8 L1592.6 461.3 L1593.9 464.0 L1595.2 461.7 L1596.5 457.5 L1597.8 461.6 L1599.1 461.2 L1600.4 470.5 L1601.7 460.4 L1603.0 468.7 L1604.3 453.0 L1605.6 465.6 L1606.9 466.3 L1608.2 469.2 L1609.5 461.3 L1610.8 458.3 L1612.1 461.1 L1613.4 458.7 L1614.7 461.7 L1616.0 459.6 L1617.3 472.4 L1618.6 459.8 L1619.9 469.5 L1621.2 459.6 L1622.5 472.3 L1623.8 464.1 L1625.1 461.0 L1626.4 461.3 L1627.7 467.2 L1629.0 461.9 L1630.3 453.9 L1631.6 463.3 L1632.9 461.9 L1634.2 466.6 L1635.5 461.6 L1636.8 465.8 L1638.1 457.6 L1639.4 465.9 L1640.7 459.5 L1642.0 466.6 L1643.3 460.2 L1644.6 459.1 L1645.9 458.4 L1647.2 463.0 L1648.5 463.9 L1649.8 469.9 L1651.1 471.9 L1652.4 474.0 L1653.7 456.5 L1655.0 463.7 L1656.3 456.3 L1657.6 462.1 L1658.9 461.6 L1660.2 462.0 L1661.5 460.9 L1662.8 458.9 L1664.1 465.1 L1665.4 460.6 L1666.7 455.2 L1668.0 463.9 L1669.3 467.6 L1670.6 454.9 L1671.9 463.4 L1673.2 462.4 L1674.5 462.0 L1675.8 466.3 L1677.1 457.7 L1678.4 461.9 L1682.0 463.0 L1690.0 466.0 L1697.0 470.0 L1705.0 464.0 L1713.0 462.0 L1722.0 466.0 L1730.0 464.0 L1738.0 466.0 L1747.0 467.0 L1755.0 463.0 L1763.0 462.0 L1772.0 465.0 L1780.0 463.0 L1787.0 466.0 L1791.0 471.0 L1798.6 482.6 L1802.5 503.0 L1804.3 524.0 L1804.8 560.0 L1805.0 690.0" stroke="#151515" stroke-width="2.7" stroke-dasharray="5.5 2.0" fill="none" stroke-linejoin="round"/>
<path d="M1187.8 464.9L1189.0 485.2M1196.9 469.2L1198.1 487.8M1226.6 464.8L1227.8 489.0M1247.7 469.5L1248.9 495.5M1261.4 466.7L1262.6 492.0M1267.4 467.5L1268.6 508.4M1285.9 468.5L1287.1 490.4M1297.6 466.9L1298.8 491.7M1317.7 465.4L1318.9 499.4M1327.3 464.7L1328.5 531.7M1340.2 464.0L1341.4 526.5M1349.2 468.3L1350.4 507.2M1369.9 466.4L1371.1 505.9M1375.0 464.5L1376.2 578.2M1386.6 469.2L1387.8 499.4M1397.0 465.3L1398.2 567.8M1404.7 466.2L1405.9 531.7M1421.4 465.4L1422.6 500.7M1433.4 467.6L1434.6 535.6M1460.1 467.3L1461.3 484.0M1476.9 467.4L1478.1 500.7M1489.8 465.2L1491.0 494.2M1513.1 465.4L1514.3 527.8M1531.1 465.1L1532.3 490.4M1542.8 465.6L1544.0 485.2M1560.4 464.4L1561.6 480.0M1572.1 464.6L1573.3 482.6M1601.8 469.8L1603.0 477.5M1616.0 469.7L1617.2 486.5M1625.0 464.7L1626.2 489.0M1652.1 463.7L1653.3 477.5M1159.4 464.8L1160.6 476.0M1174.4 468.0L1175.6 478.0M1211.4 468.6L1212.6 480.0M1239.4 463.6L1240.6 482.0M1278.4 467.3L1279.6 484.0M1309.4 463.5L1310.6 486.0M1333.4 466.9L1334.6 500.0M1344.4 467.7L1345.6 492.0M1363.4 469.9L1364.6 494.0M1380.4 465.2L1381.6 520.0M1391.4 468.7L1392.6 510.0M1410.4 469.2L1411.6 498.0M1427.4 469.5L1428.6 490.0M1446.4 463.5L1447.6 486.0M1467.4 466.6L1468.6 490.0M1499.4 469.9L1500.6 484.0M1519.4 466.1L1520.6 482.0M1551.4 468.8L1552.6 478.0M1585.4 467.1L1586.6 479.0M1639.4 468.5L1640.6 476.0M1664.4 466.7L1665.6 474.0M1180.1 460.8L1181.3 436.1M1253.7 460.4L1254.9 436.1M1305.3 460.3L1306.5 424.5M1313.1 459.4L1314.3 441.3M1356.9 454.7L1358.1 425.8M1362.1 456.9L1363.3 438.7M1389.2 455.7L1390.4 441.3M1400.8 457.3L1402.0 428.4M1413.7 456.9L1414.9 431.0M1440.8 455.7L1442.0 425.8M1448.5 455.0L1449.7 416.8M1457.6 455.1L1458.8 424.5M1470.5 455.6L1471.7 416.8M1497.1 460.4L1498.3 432.3M1579.8 458.7L1581.0 443.9M1596.6 460.8L1597.8 446.5M1608.2 457.4L1609.4 447.8M1219.4 455.8L1220.6 448.0M1289.4 460.7L1290.6 446.0M1334.4 459.8L1335.6 444.0M1377.4 458.6L1378.6 442.0M1429.4 459.4L1430.6 440.0M1484.4 455.8L1485.6 444.0M1524.4 458.7L1525.6 446.0M1554.4 456.8L1555.6 448.0" stroke="#151515" stroke-width="2.5" stroke-dasharray="7.5 3.4" fill="none"/>
<text class="serif" x="1048.5" y="282.8" font-size="34.5" fill="#17171f" stroke="#17171f" stroke-width="0.8">N2+</text>
<text class="serif" x="1393.5" y="243.5" font-size="34.5" fill="#1c1c1c" stroke="#1c1c1c" stroke-width="0.8">e-</text>
<text class="serif" x="1049.5" y="498.5" font-size="33.5" fill="#17171f" stroke="#17171f" stroke-width="0.8">He*</text>
</g>
</g>
</svg>
</body></html>
